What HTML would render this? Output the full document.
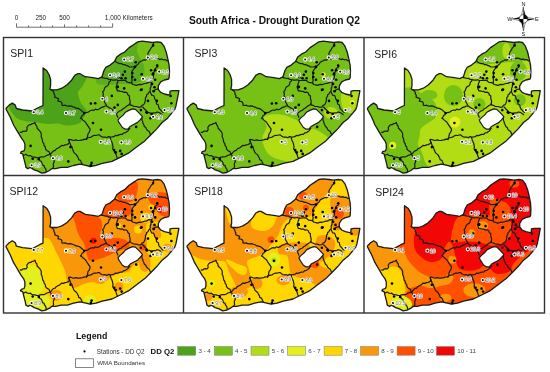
<!DOCTYPE html><html><head><meta charset="utf-8"><title>South Africa - Drought Duration Q2</title><style>html,body{margin:0;padding:0;background:#fff;overflow:hidden;}svg{display:block;}text{font-family:"Liberation Sans",Arial,sans-serif;}</style></head><body><svg width="550" height="372" viewBox="0 0 550 372"><defs><clipPath id="saclip"><path d="M6.1,108.2 L9.2,105.1 L12.3,103.1 L15.3,105.1 L16.4,108.5 L22.6,110.0 L32.0,111.0 L39.5,107.0 L43.0,105.5 L43.1,68.0 L46.6,70.5 L49.0,74.5 L50.6,79.4 L50.6,85.8 L49.8,89.0 L52.3,89.8 L57.1,89.8 L61.9,88.2 L66.8,85.0 L71.6,80.2 L74.8,75.3 L78.0,73.7 L80.0,73.7 L85.2,76.7 L92.7,77.7 L98.4,78.6 L102.0,76.7 L104.0,70.5 L105.8,67.3 L110.2,65.1 L114.5,61.5 L116.7,57.1 L120.4,54.2 L124.7,52.0 L129.1,47.6 L133.5,44.7 L137.8,41.8 L142.2,41.1 L148.0,41.8 L152.4,42.5 L157.5,41.8 L161.1,42.5 L164.0,46.2 L166.2,52.0 L167.6,57.8 L169.1,65.1 L169.5,70.9 L169.2,77.5 L168.6,79.0 L164.4,80.0 L160.7,81.8 L158.3,85.8 L158.3,89.3 L160.7,92.3 L164.4,94.0 L168.6,95.0 L169.9,94.5 L170.0,91.2 L172.8,90.6 L178.9,90.6 L178.3,94.0 L177.1,100.1 L175.9,106.2 L174.7,109.5 L172.4,112.3 L167.3,118.4 L162.1,122.5 L157.0,128.6 L150.9,134.8 L144.8,140.9 L136.6,147.0 L128.4,153.2 L120.2,157.3 L112.0,161.3 L102.2,163.4 L96.1,165.4 L90.0,166.5 L85.9,165.4 L80.0,164.2 L73.6,165.5 L67.3,167.4 L60.9,167.4 L55.8,168.6 L52.0,168.6 L49.5,170.5 L45.6,172.5 L41.8,173.1 L38.0,171.2 L34.2,169.9 L30.4,167.4 L27.8,168.6 L25.9,167.4 L25.3,164.2 L24.0,159.1 L22.7,154.0 L20.5,153.2 L21.3,151.6 L24.1,150.8 L24.9,148.4 L24.9,144.4 L23.7,141.1 L21.3,137.9 L18.9,133.9 L16.5,129.8 L13.6,125.0 L10.2,117.0 L6.1,109.2Z"/></clipPath></defs><rect width="550" height="372" fill="#fff"/><text x="189" y="23.6" font-size="10.25" font-weight="bold" fill="#111">South Africa - Drought Duration Q2</text><g stroke="#333" stroke-width="0.7" fill="none"><line x1="16.5" y1="27.2" x2="112.6" y2="27.2"/><line x1="16.5" y1="27.2" x2="16.5" y2="23.3"/><line x1="28.5" y1="27.2" x2="28.5" y2="25.4"/><line x1="40.5" y1="27.2" x2="40.5" y2="25.4"/><line x1="52.5" y1="27.2" x2="52.5" y2="25.4"/><line x1="64.5" y1="27.2" x2="64.5" y2="24.4"/><line x1="76.6" y1="27.2" x2="76.6" y2="25.4"/><line x1="88.6" y1="27.2" x2="88.6" y2="25.4"/><line x1="100.6" y1="27.2" x2="100.6" y2="25.4"/><line x1="112.6" y1="27.2" x2="112.6" y2="23.3"/></g><g font-size="6.4" fill="#222"><text x="16.5" y="20" text-anchor="middle">0</text><text x="40.8" y="20" text-anchor="middle">250</text><text x="64.6" y="20" text-anchor="middle">500</text><text x="104.8" y="20">1,000 Kilometers</text></g><g><path d="M523.4,18.9 L523.4,6.699999999999999 L526.1999999999999,18.9Z" fill="#000"/><path d="M523.4,18.9 L523.4,6.699999999999999 L520.6,18.9Z" fill="#fff" stroke="#000" stroke-width="0.4"/><path d="M523.4,18.9 L534.4,18.9 L523.4,21.7Z" fill="#000"/><path d="M523.4,18.9 L534.4,18.9 L523.4,16.099999999999998Z" fill="#fff" stroke="#000" stroke-width="0.4"/><path d="M523.4,18.9 L523.4,31.099999999999998 L520.6,18.9Z" fill="#000"/><path d="M523.4,18.9 L523.4,31.099999999999998 L526.1999999999999,18.9Z" fill="#fff" stroke="#000" stroke-width="0.4"/><path d="M523.4,18.9 L512.4,18.9 L523.4,16.099999999999998Z" fill="#000"/><path d="M523.4,18.9 L512.4,18.9 L523.4,21.7Z" fill="#fff" stroke="#000" stroke-width="0.4"/><circle cx="523.4" cy="18.9" r="4.3" fill="#fff" stroke="#000" stroke-width="0.6"/><path d="M523.4,18.9 L523.4,14.599999999999998 A4.3,4.3 0 0 1 527.6999999999999,18.9 Z" fill="#000"/><path d="M523.4,18.9 L523.4,23.2 A4.3,4.3 0 0 1 519.1,18.9 Z" fill="#000"/><g font-family="Liberation Serif" font-size="5.6" fill="#111" text-anchor="middle"><text x="523.4" y="6">N</text><text x="523.4" y="35.5">S</text><text x="509.8" y="20.7">W</text><text x="536.8" y="20.7">E</text></g></g><g transform="translate(0,0)"><g clip-path="url(#saclip)"><rect x="0" y="30" width="185" height="150" fill="#77c016"/><path d="M0.0,95.0 C0.7,94.7 5.3,103.5 12.0,98.0 C18.7,92.5 32.0,68.0 40.0,62.0 C48.0,56.0 52.5,60.3 60.0,62.0 C67.5,63.7 80.6,69.4 85.0,72.0 C89.4,74.6 86.6,75.6 86.5,77.4 C86.4,79.2 85.3,81.0 84.4,82.8 C83.5,84.6 82.2,86.5 81.1,88.1 C80.0,89.7 78.2,90.8 77.9,92.4 C77.6,94.0 78.5,96.0 79.0,97.8 C79.5,99.6 80.2,101.6 81.1,103.2 C82.0,104.8 83.5,106.2 84.4,107.5 C85.3,108.8 86.6,109.1 86.5,110.7 C86.4,112.3 85.2,114.9 84.0,117.0 C82.8,119.1 82.0,121.8 79.2,123.2 C76.4,124.6 70.6,125.5 67.1,125.6 C63.6,125.6 61.3,123.8 58.0,123.5 C54.7,123.2 50.9,124.2 47.3,124.0 C43.7,123.8 39.7,122.7 36.4,122.3 C33.1,121.9 30.3,122.0 27.3,121.5 C24.3,121.0 20.6,120.2 18.2,119.0 C15.8,117.8 14.4,115.8 13.0,114.0 C11.6,112.2 10.3,110.8 9.5,108.5 C8.7,106.2 9.6,102.2 8.0,100.0 C6.4,97.8 -0.7,95.3 0.0,95.0Z" fill="#4ca31a"/><path d="M98.0,84.0 C94.2,82.0 96.0,75.0 97.0,72.0 C98.0,69.0 101.5,67.7 104.0,66.0 C106.5,64.3 110.0,63.7 112.0,62.0 C114.0,60.3 114.3,58.0 116.0,56.0 C117.7,54.0 119.7,51.8 122.0,50.0 C124.3,48.2 127.3,46.5 130.0,45.0 C132.7,43.5 136.8,40.0 138.0,41.0 C139.2,42.0 136.5,47.8 137.0,51.0 C137.5,54.2 139.8,57.5 141.0,60.0 C142.2,62.5 143.5,63.3 144.0,66.0 C144.5,68.7 144.7,73.3 144.0,76.0 C143.3,78.7 142.0,80.7 140.0,82.0 C138.0,83.3 135.3,83.7 132.0,84.0 C128.7,84.3 125.7,84.0 120.0,84.0 C114.3,84.0 101.8,86.0 98.0,84.0Z" fill="#5cad1c"/><g fill="none" stroke="#1a1a1a" stroke-width="1.2" stroke-linejoin="round"><path d="M49.8,89.0 L51.3,89.9 L52.8,90.9 L53.9,92.3 L54.0,93.9 L54.9,95.4 L54.7,97.1 L56.7,97.9 L58.7,98.7 L57.9,101.1 L59.5,101.3 L61.1,101.9 L62.0,103.4 L61.9,105.2 L63.5,105.5 L65.3,105.2 L66.8,106.0 L68.3,106.1 L69.9,105.9 L71.4,106.1 L72.9,106.8 L74.5,107.2 L76.0,108.2 L77.7,108.4 L79.6,109.1 L81.1,110.3 L82.6,111.6 L84.2,113.2 L85.9,112.7 L87.6,112.4 L89.1,111.4 L90.6,110.5 L92.3,110.0 L94.0,110.4 L95.4,109.1 L97.2,109.8 L98.7,109.2 L100.2,108.2 L101.6,107.3 L103.4,106.9 L104.9,106.0 L106.7,106.0"/><path d="M110.7,79.5 L110.3,81.1 L108.9,82.3 L108.7,84.0 L107.7,85.7 L105.8,86.6 L104.6,88.1 L104.0,90.3 L102.6,92.1 L103.4,93.8 L103.0,95.9 L104.0,97.5 L104.5,99.0 L104.2,100.5 L104.5,102.0 L105.3,103.3 L106.0,104.6 L106.7,106.0 L108.3,107.0 L109.9,108.1 L111.7,109.0 L113.1,110.5 L113.9,111.8 L115.6,112.3 L116.3,113.7 L117.8,112.4 L119.3,111.1 L121.2,110.5 L122.6,109.1 L124.4,108.1 L125.9,106.8 L127.6,105.6 L129.1,104.7 L130.0,103.2 L130.2,101.5 L129.8,99.7 L129.3,98.0 L129.5,96.1 L128.0,95.0 L127.3,93.0 L125.5,92.1 L123.8,92.4 L122.3,91.4 L120.6,91.5 L119.1,90.9 L117.4,90.8 L116.6,88.8 L116.1,86.7 L116.8,85.2 L117.1,83.6 L117.8,82.1 L118.1,80.5"/><path d="M116.3,113.7 L117.2,115.7 L118.0,117.8"/><path d="M99.0,77.0 L100.6,77.4 L102.4,77.6 L104.0,78.0 L105.7,78.5 L107.4,78.4 L108.9,79.5 L110.7,79.5 L112.5,80.1 L114.4,80.2 L116.3,79.8 L118.1,80.5 L119.9,80.5 L121.8,80.3 L123.7,80.2 L125.5,80.5 L126.6,81.7 L127.9,82.5 L129.5,82.7 L131.4,82.9 L132.7,84.5 L134.5,84.8 L136.2,85.4 L137.9,84.9 L139.5,84.4 L141.3,84.6 L143.0,84.0 L144.5,83.5 L146.0,83.4 L147.5,82.9 L148.8,81.9 L150.5,82.2 L151.9,81.5"/><path d="M135.8,66.2 L134.8,67.6 L133.6,68.9 L132.6,70.3 L131.9,71.8 L132.2,73.5 L132.0,75.1 L131.8,76.7 L131.7,78.4 L132.2,80.1 L131.8,81.8 L131.8,83.5"/><path d="M114.0,60.5 L115.3,61.3 L116.5,62.2 L118.0,63.0 L119.6,63.6 L121.5,63.6 L122.9,64.6 L124.7,64.5 L126.2,65.4 L127.8,65.8 L129.3,66.9 L131.0,67.0 L132.6,67.0 L134.2,66.6 L135.8,66.2 L137.0,65.0 L138.3,63.9 L139.1,62.3 L140.6,61.4 L142.2,60.7 L143.7,59.8 L145.6,60.1 L147.1,59.0 L148.7,58.3 L150.4,59.1 L151.9,58.0 L153.6,58.6 L155.2,58.2 L156.8,58.3 L158.4,58.7 L159.9,59.6 L161.7,58.9 L163.2,59.8 L165.2,59.5 L166.9,60.8 L168.9,60.6"/><path d="M153.5,42.0 L153.5,44.5 L152.7,46.3 L151.2,47.6 L150.3,49.3 L149.3,50.8 L148.3,52.3 L147.9,54.1 L148.0,55.8 L147.7,57.4 L147.1,59.0"/><path d="M158.0,66.0 L156.9,67.6 L155.2,68.6 L154.5,70.2 L154.2,71.8 L153.4,73.3 L153.5,75.1 L153.4,76.8 L153.0,78.4 L152.0,79.8 L151.9,81.5 L151.3,83.2 L151.0,85.0 L151.0,86.7 L150.2,88.2 L150.3,89.9 L149.9,91.5 L148.6,92.4 L148.0,94.0 L146.6,94.8 L146.6,96.3 L145.4,97.6 L145.5,99.2 L145.1,101.4 L144.4,103.5 L143.5,104.8 L142.0,105.4 L141.2,106.8 L138.6,107.3 L137.2,106.7 L135.7,106.5 L133.7,106.3 L131.9,105.3 L130.0,104.8 L130.0,103.2"/><path d="M149.9,91.5 L151.0,93.7 L151.7,95.2 L153.6,95.5 L154.3,97.0 L154.7,98.9 L156.1,100.5 L156.4,102.4 L156.6,104.1 L158.4,105.1 L158.6,106.8 L159.3,108.7 L160.8,110.1 L162.0,111.6 L163.5,112.8"/><path d="M142.3,106.8 L143.5,107.8 L144.5,109.0 L145.6,110.0 L146.7,111.2 L147.7,112.3 L149.2,112.6 L150.6,113.2 L152.1,113.4 L153.7,112.8 L155.4,113.0 L156.9,112.0 L158.6,112.3 L160.0,113.0 L161.3,113.9 L162.5,115.0"/><path d="M68.7,139.3 L70.5,139.5 L72.2,140.1 L73.9,140.5 L75.8,139.9 L77.5,140.4 L79.3,140.5 L81.0,140.2 L82.7,139.9 L84.4,139.1 L86.2,139.3 L87.6,138.0 L89.4,137.5 L91.2,137.1 L92.7,136.0 L94.3,135.4 L96.0,135.5 L97.6,135.0 L99.3,134.9 L100.5,136.0 L101.9,136.8 L103.6,137.1 L105.2,137.0 L106.9,137.7 L108.5,136.6 L110.2,137.1 L112.0,137.0 L113.8,136.7 L115.3,135.4 L117.2,135.6 L118.9,134.9 L120.6,134.4 L122.4,134.3 L123.7,132.9 L125.5,132.7 L126.6,131.7 L128.0,130.9 L128.8,129.6 L129.8,128.4 L128.5,127.4 L127.6,126.0"/><path d="M84.2,113.2 L83.6,114.7 L82.1,115.6 L81.5,117.1 L80.4,118.3 L81.8,118.9 L82.9,120.1 L84.1,121.1 L85.3,122.0 L86.5,123.8 L87.7,125.6 L88.9,127.4 L90.1,129.2 L89.8,130.8 L89.2,132.4 L88.1,133.7 L87.7,135.3 L87.5,137.0 L86.7,138.4 L86.5,140.1"/><path d="M110.2,137.1 L110.5,138.8 L111.0,140.5 L111.8,142.0 L112.4,143.6 L112.7,145.3 L113.1,146.9 L112.6,148.6 L113.5,150.2 L114.5,151.7 L115.5,153.3 L116.2,154.9 L116.7,156.7 L117.5,158.3 L117.8,160.0"/><path d="M68.7,139.3 L68.9,141.0 L69.7,142.5 L70.3,144.1 L70.8,145.7 L72.1,147.0 L72.3,148.7 L73.1,150.2 L73.6,151.8 L74.5,153.1 L75.7,154.1 L76.9,155.2 L77.5,156.7 L78.4,158.0 L78.7,159.7 L80.5,160.4 L81.1,161.9 L81.8,163.3 L82.5,165.0 L84.0,166.0"/><path d="M141.1,117.0 L142.0,118.5 L142.0,120.3 L142.7,121.8 L143.1,123.5 L143.9,125.0 L144.4,126.6 L145.8,127.6 L146.5,129.3 L147.7,130.5 L149.2,131.5 L149.8,132.9 L150.4,134.3 L151.3,135.6 L151.6,137.1"/><path d="M19.8,132.2 L21.4,132.5 L22.8,131.3 L24.4,131.0 L26.0,131.3 L27.2,129.7 L26.8,127.6 L27.8,126.0 L29.0,124.9 L30.7,124.7 L32.0,123.7 L33.7,123.5 L34.9,122.4 L35.8,125.0 L36.9,126.3 L37.1,128.3 L38.4,129.5 L39.9,131.1 L41.1,133.0 L41.3,134.8 L41.2,136.7 L42.0,138.4 L42.4,140.2 L42.7,142.1 L43.8,143.7 L44.1,145.5 L45.4,147.1 L45.5,149.0 L47.0,150.7 L49.0,151.6 L50.0,154.3 L51.3,153.3 L52.3,152.0 L53.5,150.8 L55.2,150.4 L56.2,149.0 L57.6,148.2 L59.1,147.6 L60.4,146.6 L61.5,145.4 L63.3,145.7 L65.0,144.9 L66.8,144.6 L68.3,143.9 L69.5,142.8 L69.2,141.0 L68.7,139.3"/><path d="M21.6,155.2 L23.9,155.2 L26.0,154.3 L27.2,155.3 L28.7,155.8 L30.4,155.5 L31.6,156.6 L33.1,157.0 L34.9,157.2 L36.6,157.6 L38.4,157.8 L40.1,157.1 L41.9,156.9 L43.8,157.0 L45.3,156.3 L46.8,155.3 L48.4,154.9 L50.0,154.3"/><path d="M38.4,157.8 L39.1,159.3 L39.9,160.7 L41.4,161.6 L42.0,163.2 L42.4,164.9 L44.1,165.6 L44.5,167.3 L45.5,168.5 L46.2,170.2 L46.0,172.0"/><path d="M50.0,154.3 L51.0,155.6 L51.3,157.4 L52.3,158.8 L53.8,159.8 L54.4,161.4 L53.5,163.1 L53.3,164.9 L53.6,166.9 L52.6,168.5"/><path d="M152.4,91.1 L154.1,90.6 L155.6,89.5 L157.2,89.1 L158.9,89.1 L160.5,89.5"/></g></g><path d="M6.1,108.2 L9.2,105.1 L12.3,103.1 L15.3,105.1 L16.4,108.5 L22.6,110.0 L32.0,111.0 L39.5,107.0 L43.0,105.5 L43.1,68.0 L46.6,70.5 L49.0,74.5 L50.6,79.4 L50.6,85.8 L49.8,89.0 L52.3,89.8 L57.1,89.8 L61.9,88.2 L66.8,85.0 L71.6,80.2 L74.8,75.3 L78.0,73.7 L80.0,73.7 L85.2,76.7 L92.7,77.7 L98.4,78.6 L102.0,76.7 L104.0,70.5 L105.8,67.3 L110.2,65.1 L114.5,61.5 L116.7,57.1 L120.4,54.2 L124.7,52.0 L129.1,47.6 L133.5,44.7 L137.8,41.8 L142.2,41.1 L148.0,41.8 L152.4,42.5 L157.5,41.8 L161.1,42.5 L164.0,46.2 L166.2,52.0 L167.6,57.8 L169.1,65.1 L169.5,70.9 L169.2,77.5 L168.6,79.0 L164.4,80.0 L160.7,81.8 L158.3,85.8 L158.3,89.3 L160.7,92.3 L164.4,94.0 L168.6,95.0 L169.9,94.5 L170.0,91.2 L172.8,90.6 L178.9,90.6 L178.3,94.0 L177.1,100.1 L175.9,106.2 L174.7,109.5 L172.4,112.3 L167.3,118.4 L162.1,122.5 L157.0,128.6 L150.9,134.8 L144.8,140.9 L136.6,147.0 L128.4,153.2 L120.2,157.3 L112.0,161.3 L102.2,163.4 L96.1,165.4 L90.0,166.5 L85.9,165.4 L80.0,164.2 L73.6,165.5 L67.3,167.4 L60.9,167.4 L55.8,168.6 L52.0,168.6 L49.5,170.5 L45.6,172.5 L41.8,173.1 L38.0,171.2 L34.2,169.9 L30.4,167.4 L27.8,168.6 L25.9,167.4 L25.3,164.2 L24.0,159.1 L22.7,154.0 L20.5,153.2 L21.3,151.6 L24.1,150.8 L24.9,148.4 L24.9,144.4 L23.7,141.1 L21.3,137.9 L18.9,133.9 L16.5,129.8 L13.6,125.0 L10.2,117.0 L6.1,109.2Z" fill="none" stroke="#1a1a1a" stroke-width="1.3" stroke-linejoin="round"/><path d="M118.0,119.8 L120.4,117.4 L123.2,115.1 L125.5,112.2 L128.8,110.4 L132.6,108.9 L135.4,109.4 L138.2,112.2 L141.1,115.1 L142.5,116.9 L140.1,119.8 L137.3,122.6 L133.5,124.5 L130.2,126.4 L127.9,129.2 L125.1,129.2 L122.2,127.3 L120.4,124.5 L118.5,121.6Z" fill="#fff" stroke="#1a1a1a" stroke-width="1.2" stroke-linejoin="round"/><g fill="#000"><circle cx="135.7" cy="62.2" r="1.3"/><circle cx="135" cy="66.9" r="1.3"/><circle cx="124.9" cy="71.6" r="1.3"/><circle cx="122.9" cy="74.7" r="1.3"/><circle cx="125.6" cy="78.3" r="1.3"/><circle cx="121.5" cy="78.3" r="1.3"/><circle cx="132.3" cy="73" r="1.3"/><circle cx="132.3" cy="77" r="1.3"/><circle cx="135" cy="79.7" r="1.3"/><circle cx="141.7" cy="74.3" r="1.3"/><circle cx="151.1" cy="70.3" r="1.3"/><circle cx="153.1" cy="73.6" r="1.3"/><circle cx="155.2" cy="70.3" r="1.3"/><circle cx="157.2" cy="65.6" r="1.3"/><circle cx="155.2" cy="79.7" r="1.3"/><circle cx="117.5" cy="87.1" r="1.3"/><circle cx="124.2" cy="88.4" r="1.3"/><circle cx="152.9" cy="74.3" r="1.3"/><circle cx="152.1" cy="84" r="1.3"/><circle cx="154.5" cy="87.2" r="1.3"/><circle cx="153.7" cy="91.2" r="1.3"/><circle cx="170.6" cy="96" r="1.3"/><circle cx="171.4" cy="103.3" r="1.3"/><circle cx="148" cy="100.9" r="1.3"/><circle cx="156.9" cy="100.9" r="1.3"/><circle cx="146.4" cy="112.2" r="1.3"/><circle cx="141.6" cy="89.6" r="1.3"/><circle cx="111.8" cy="95.9" r="1.3"/><circle cx="90.9" cy="103.5" r="1.3"/><circle cx="95.2" cy="103.3" r="1.3"/><circle cx="114.5" cy="107.6" r="1.3"/><circle cx="117.8" cy="104.9" r="1.3"/><circle cx="93" cy="123" r="1.3"/><circle cx="84.2" cy="113" r="1.3"/><circle cx="117.8" cy="86.7" r="1.3"/><circle cx="140.9" cy="110.1" r="1.3"/><circle cx="147" cy="112.8" r="1.3"/><circle cx="151.7" cy="114.1" r="1.3"/><circle cx="150.4" cy="118.2" r="1.3"/><circle cx="136.2" cy="126.9" r="1.3"/><circle cx="30.6" cy="145.9" r="1.3"/><circle cx="32.7" cy="158.8" r="1.3"/><circle cx="38.8" cy="159.2" r="1.3"/><circle cx="101" cy="129.8" r="1.3"/><circle cx="70.5" cy="147.1" r="1.3"/><circle cx="68.3" cy="161.4" r="1.3"/><circle cx="91.6" cy="162.9" r="1.3"/><circle cx="90.9" cy="165.2" r="1.3"/><circle cx="114.2" cy="150.1" r="1.3"/><circle cx="115.7" cy="152.4" r="1.3"/><circle cx="120.2" cy="150.9" r="1.3"/><circle cx="121.7" cy="153.9" r="1.3"/><circle cx="153.1" cy="45.4" r="1.3"/><circle cx="140.9" cy="90" r="1.3"/><circle cx="118.7" cy="77.2" r="1.3"/></g><circle cx="33.7" cy="112.2" r="1.6" fill="#111" stroke="#fff" stroke-width="1.1"/><text x="36.300000000000004" y="114.10000000000001" font-size="5" fill="#6a7080" stroke="#fff" stroke-width="1.2" stroke-opacity="0.9" paint-order="stroke" stroke-linejoin="round">3.4</text><circle cx="66" cy="113" r="1.6" fill="#111" stroke="#fff" stroke-width="1.1"/><text x="68.6" y="114.9" font-size="5" fill="#6a7080" stroke="#fff" stroke-width="1.2" stroke-opacity="0.9" paint-order="stroke" stroke-linejoin="round">3.7</text><circle cx="102.4" cy="98.8" r="1.6" fill="#111" stroke="#fff" stroke-width="1.1"/><text x="105.0" y="100.7" font-size="5" fill="#6a7080" stroke="#fff" stroke-width="1.2" stroke-opacity="0.9" paint-order="stroke" stroke-linejoin="round">4</text><circle cx="106.4" cy="111.6" r="1.6" fill="#111" stroke="#fff" stroke-width="1.1"/><text x="109.0" y="113.5" font-size="5" fill="#6a7080" stroke="#fff" stroke-width="1.2" stroke-opacity="0.9" paint-order="stroke" stroke-linejoin="round">4.4</text><circle cx="110.1" cy="75.2" r="1.6" fill="#111" stroke="#fff" stroke-width="1.1"/><text x="112.69999999999999" y="77.10000000000001" font-size="5" fill="#6a7080" stroke="#fff" stroke-width="1.2" stroke-opacity="0.9" paint-order="stroke" stroke-linejoin="round">3.6</text><circle cx="124.2" cy="59.5" r="1.6" fill="#111" stroke="#fff" stroke-width="1.1"/><text x="126.8" y="61.4" font-size="5" fill="#6a7080" stroke="#fff" stroke-width="1.2" stroke-opacity="0.9" paint-order="stroke" stroke-linejoin="round">2.7</text><circle cx="147.8" cy="57.5" r="1.6" fill="#111" stroke="#fff" stroke-width="1.1"/><text x="150.4" y="59.4" font-size="5" fill="#6a7080" stroke="#fff" stroke-width="1.2" stroke-opacity="0.9" paint-order="stroke" stroke-linejoin="round">2.6</text><circle cx="143" cy="78.7" r="1.6" fill="#111" stroke="#fff" stroke-width="1.1"/><text x="145.6" y="80.60000000000001" font-size="5" fill="#6a7080" stroke="#fff" stroke-width="1.2" stroke-opacity="0.9" paint-order="stroke" stroke-linejoin="round">4.5</text><circle cx="159.2" cy="71.6" r="1.6" fill="#111" stroke="#fff" stroke-width="1.1"/><text x="161.79999999999998" y="73.5" font-size="5" fill="#6a7080" stroke="#fff" stroke-width="1.2" stroke-opacity="0.9" paint-order="stroke" stroke-linejoin="round">3.3</text><circle cx="153.1" cy="116.8" r="1.6" fill="#111" stroke="#fff" stroke-width="1.1"/><text x="155.7" y="118.7" font-size="5" fill="#6a7080" stroke="#fff" stroke-width="1.2" stroke-opacity="0.9" paint-order="stroke" stroke-linejoin="round">4.4</text><circle cx="164.5" cy="110.1" r="1.6" fill="#111" stroke="#fff" stroke-width="1.1"/><text x="167.1" y="112.0" font-size="5" fill="#6a7080" stroke="#fff" stroke-width="1.2" stroke-opacity="0.9" paint-order="stroke" stroke-linejoin="round">5.3</text><circle cx="121.4" cy="142.4" r="1.6" fill="#111" stroke="#fff" stroke-width="1.1"/><text x="124.0" y="144.3" font-size="5" fill="#6a7080" stroke="#fff" stroke-width="1.2" stroke-opacity="0.9" paint-order="stroke" stroke-linejoin="round">4.9</text><circle cx="100.7" cy="141.8" r="1.6" fill="#111" stroke="#fff" stroke-width="1.1"/><text x="103.3" y="143.70000000000002" font-size="5" fill="#6a7080" stroke="#fff" stroke-width="1.2" stroke-opacity="0.9" paint-order="stroke" stroke-linejoin="round">4.6</text><circle cx="53" cy="158.2" r="1.6" fill="#111" stroke="#fff" stroke-width="1.1"/><text x="55.6" y="160.1" font-size="5" fill="#6a7080" stroke="#fff" stroke-width="1.2" stroke-opacity="0.9" paint-order="stroke" stroke-linejoin="round">4.9</text><circle cx="31.6" cy="165.3" r="1.6" fill="#111" stroke="#fff" stroke-width="1.1"/><text x="34.2" y="167.20000000000002" font-size="5" fill="#6a7080" stroke="#fff" stroke-width="1.2" stroke-opacity="0.9" paint-order="stroke" stroke-linejoin="round">3.9</text></g><g transform="translate(181,0)"><g clip-path="url(#saclip)"><rect x="0" y="30" width="185" height="150" fill="#77c016"/><path d="M83.5,116.6 C85.9,114.5 94.5,113.8 100.0,114.5 C105.5,115.2 112.2,118.6 116.7,120.7 C121.2,122.8 123.5,125.3 127.0,127.0 C130.4,128.7 133.9,128.9 137.4,131.0 C140.9,133.1 147.5,136.6 147.8,139.4 C148.2,142.2 143.0,145.3 139.5,147.7 C136.0,150.1 130.5,151.9 127.0,154.0 C123.5,156.1 121.5,158.7 118.7,160.0 C116.0,161.3 113.6,162.0 110.5,162.0 C107.4,162.0 103.5,161.0 100.0,160.0 C96.5,159.0 92.5,158.1 89.7,156.0 C87.0,153.9 84.9,150.8 83.5,147.7 C82.1,144.6 81.1,140.8 81.4,137.3 C81.8,133.9 85.2,130.4 85.6,127.0 C85.9,123.5 81.1,118.7 83.5,116.6Z" fill="#b2dc14"/><path d="M162.0,90.0 C163.7,88.0 167.0,88.3 170.0,88.0 C173.0,87.7 178.5,86.0 180.0,88.0 C181.5,90.0 179.7,96.7 179.0,100.0 C178.3,103.3 177.5,105.8 176.0,108.0 C174.5,110.2 172.2,112.7 170.0,113.0 C167.8,113.3 164.7,112.2 163.0,110.0 C161.3,107.8 160.2,103.3 160.0,100.0 C159.8,96.7 160.3,92.0 162.0,90.0Z" fill="#b2dc14"/><ellipse cx="150" cy="113" rx="7" ry="6" fill="#b2dc14"/><ellipse cx="171.5" cy="102.5" rx="2.5" ry="2.5" fill="#e4ef1e"/><ellipse cx="142.4" cy="74.5" rx="2.3" ry="2.3" fill="#e4ef1e"/><g fill="none" stroke="#1a1a1a" stroke-width="1.2" stroke-linejoin="round"><path d="M49.8,89.0 L51.3,89.9 L52.8,90.9 L53.9,92.3 L54.0,93.9 L54.9,95.4 L54.7,97.1 L56.7,97.9 L58.7,98.7 L57.9,101.1 L59.5,101.3 L61.1,101.9 L62.0,103.4 L61.9,105.2 L63.5,105.5 L65.3,105.2 L66.8,106.0 L68.3,106.1 L69.9,105.9 L71.4,106.1 L72.9,106.8 L74.5,107.2 L76.0,108.2 L77.7,108.4 L79.6,109.1 L81.1,110.3 L82.6,111.6 L84.2,113.2 L85.9,112.7 L87.6,112.4 L89.1,111.4 L90.6,110.5 L92.3,110.0 L94.0,110.4 L95.4,109.1 L97.2,109.8 L98.7,109.2 L100.2,108.2 L101.6,107.3 L103.4,106.9 L104.9,106.0 L106.7,106.0"/><path d="M110.7,79.5 L110.3,81.1 L108.9,82.3 L108.7,84.0 L107.7,85.7 L105.8,86.6 L104.6,88.1 L104.0,90.3 L102.6,92.1 L103.4,93.8 L103.0,95.9 L104.0,97.5 L104.5,99.0 L104.2,100.5 L104.5,102.0 L105.3,103.3 L106.0,104.6 L106.7,106.0 L108.3,107.0 L109.9,108.1 L111.7,109.0 L113.1,110.5 L113.9,111.8 L115.6,112.3 L116.3,113.7 L117.8,112.4 L119.3,111.1 L121.2,110.5 L122.6,109.1 L124.4,108.1 L125.9,106.8 L127.6,105.6 L129.1,104.7 L130.0,103.2 L130.2,101.5 L129.8,99.7 L129.3,98.0 L129.5,96.1 L128.0,95.0 L127.3,93.0 L125.5,92.1 L123.8,92.4 L122.3,91.4 L120.6,91.5 L119.1,90.9 L117.4,90.8 L116.6,88.8 L116.1,86.7 L116.8,85.2 L117.1,83.6 L117.8,82.1 L118.1,80.5"/><path d="M116.3,113.7 L117.2,115.7 L118.0,117.8"/><path d="M99.0,77.0 L100.6,77.4 L102.4,77.6 L104.0,78.0 L105.7,78.5 L107.4,78.4 L108.9,79.5 L110.7,79.5 L112.5,80.1 L114.4,80.2 L116.3,79.8 L118.1,80.5 L119.9,80.5 L121.8,80.3 L123.7,80.2 L125.5,80.5 L126.6,81.7 L127.9,82.5 L129.5,82.7 L131.4,82.9 L132.7,84.5 L134.5,84.8 L136.2,85.4 L137.9,84.9 L139.5,84.4 L141.3,84.6 L143.0,84.0 L144.5,83.5 L146.0,83.4 L147.5,82.9 L148.8,81.9 L150.5,82.2 L151.9,81.5"/><path d="M135.8,66.2 L134.8,67.6 L133.6,68.9 L132.6,70.3 L131.9,71.8 L132.2,73.5 L132.0,75.1 L131.8,76.7 L131.7,78.4 L132.2,80.1 L131.8,81.8 L131.8,83.5"/><path d="M114.0,60.5 L115.3,61.3 L116.5,62.2 L118.0,63.0 L119.6,63.6 L121.5,63.6 L122.9,64.6 L124.7,64.5 L126.2,65.4 L127.8,65.8 L129.3,66.9 L131.0,67.0 L132.6,67.0 L134.2,66.6 L135.8,66.2 L137.0,65.0 L138.3,63.9 L139.1,62.3 L140.6,61.4 L142.2,60.7 L143.7,59.8 L145.6,60.1 L147.1,59.0 L148.7,58.3 L150.4,59.1 L151.9,58.0 L153.6,58.6 L155.2,58.2 L156.8,58.3 L158.4,58.7 L159.9,59.6 L161.7,58.9 L163.2,59.8 L165.2,59.5 L166.9,60.8 L168.9,60.6"/><path d="M153.5,42.0 L153.5,44.5 L152.7,46.3 L151.2,47.6 L150.3,49.3 L149.3,50.8 L148.3,52.3 L147.9,54.1 L148.0,55.8 L147.7,57.4 L147.1,59.0"/><path d="M158.0,66.0 L156.9,67.6 L155.2,68.6 L154.5,70.2 L154.2,71.8 L153.4,73.3 L153.5,75.1 L153.4,76.8 L153.0,78.4 L152.0,79.8 L151.9,81.5 L151.3,83.2 L151.0,85.0 L151.0,86.7 L150.2,88.2 L150.3,89.9 L149.9,91.5 L148.6,92.4 L148.0,94.0 L146.6,94.8 L146.6,96.3 L145.4,97.6 L145.5,99.2 L145.1,101.4 L144.4,103.5 L143.5,104.8 L142.0,105.4 L141.2,106.8 L138.6,107.3 L137.2,106.7 L135.7,106.5 L133.7,106.3 L131.9,105.3 L130.0,104.8 L130.0,103.2"/><path d="M149.9,91.5 L151.0,93.7 L151.7,95.2 L153.6,95.5 L154.3,97.0 L154.7,98.9 L156.1,100.5 L156.4,102.4 L156.6,104.1 L158.4,105.1 L158.6,106.8 L159.3,108.7 L160.8,110.1 L162.0,111.6 L163.5,112.8"/><path d="M142.3,106.8 L143.5,107.8 L144.5,109.0 L145.6,110.0 L146.7,111.2 L147.7,112.3 L149.2,112.6 L150.6,113.2 L152.1,113.4 L153.7,112.8 L155.4,113.0 L156.9,112.0 L158.6,112.3 L160.0,113.0 L161.3,113.9 L162.5,115.0"/><path d="M68.7,139.3 L70.5,139.5 L72.2,140.1 L73.9,140.5 L75.8,139.9 L77.5,140.4 L79.3,140.5 L81.0,140.2 L82.7,139.9 L84.4,139.1 L86.2,139.3 L87.6,138.0 L89.4,137.5 L91.2,137.1 L92.7,136.0 L94.3,135.4 L96.0,135.5 L97.6,135.0 L99.3,134.9 L100.5,136.0 L101.9,136.8 L103.6,137.1 L105.2,137.0 L106.9,137.7 L108.5,136.6 L110.2,137.1 L112.0,137.0 L113.8,136.7 L115.3,135.4 L117.2,135.6 L118.9,134.9 L120.6,134.4 L122.4,134.3 L123.7,132.9 L125.5,132.7 L126.6,131.7 L128.0,130.9 L128.8,129.6 L129.8,128.4 L128.5,127.4 L127.6,126.0"/><path d="M84.2,113.2 L83.6,114.7 L82.1,115.6 L81.5,117.1 L80.4,118.3 L81.8,118.9 L82.9,120.1 L84.1,121.1 L85.3,122.0 L86.5,123.8 L87.7,125.6 L88.9,127.4 L90.1,129.2 L89.8,130.8 L89.2,132.4 L88.1,133.7 L87.7,135.3 L87.5,137.0 L86.7,138.4 L86.5,140.1"/><path d="M110.2,137.1 L110.5,138.8 L111.0,140.5 L111.8,142.0 L112.4,143.6 L112.7,145.3 L113.1,146.9 L112.6,148.6 L113.5,150.2 L114.5,151.7 L115.5,153.3 L116.2,154.9 L116.7,156.7 L117.5,158.3 L117.8,160.0"/><path d="M68.7,139.3 L68.9,141.0 L69.7,142.5 L70.3,144.1 L70.8,145.7 L72.1,147.0 L72.3,148.7 L73.1,150.2 L73.6,151.8 L74.5,153.1 L75.7,154.1 L76.9,155.2 L77.5,156.7 L78.4,158.0 L78.7,159.7 L80.5,160.4 L81.1,161.9 L81.8,163.3 L82.5,165.0 L84.0,166.0"/><path d="M141.1,117.0 L142.0,118.5 L142.0,120.3 L142.7,121.8 L143.1,123.5 L143.9,125.0 L144.4,126.6 L145.8,127.6 L146.5,129.3 L147.7,130.5 L149.2,131.5 L149.8,132.9 L150.4,134.3 L151.3,135.6 L151.6,137.1"/><path d="M19.8,132.2 L21.4,132.5 L22.8,131.3 L24.4,131.0 L26.0,131.3 L27.2,129.7 L26.8,127.6 L27.8,126.0 L29.0,124.9 L30.7,124.7 L32.0,123.7 L33.7,123.5 L34.9,122.4 L35.8,125.0 L36.9,126.3 L37.1,128.3 L38.4,129.5 L39.9,131.1 L41.1,133.0 L41.3,134.8 L41.2,136.7 L42.0,138.4 L42.4,140.2 L42.7,142.1 L43.8,143.7 L44.1,145.5 L45.4,147.1 L45.5,149.0 L47.0,150.7 L49.0,151.6 L50.0,154.3 L51.3,153.3 L52.3,152.0 L53.5,150.8 L55.2,150.4 L56.2,149.0 L57.6,148.2 L59.1,147.6 L60.4,146.6 L61.5,145.4 L63.3,145.7 L65.0,144.9 L66.8,144.6 L68.3,143.9 L69.5,142.8 L69.2,141.0 L68.7,139.3"/><path d="M21.6,155.2 L23.9,155.2 L26.0,154.3 L27.2,155.3 L28.7,155.8 L30.4,155.5 L31.6,156.6 L33.1,157.0 L34.9,157.2 L36.6,157.6 L38.4,157.8 L40.1,157.1 L41.9,156.9 L43.8,157.0 L45.3,156.3 L46.8,155.3 L48.4,154.9 L50.0,154.3"/><path d="M38.4,157.8 L39.1,159.3 L39.9,160.7 L41.4,161.6 L42.0,163.2 L42.4,164.9 L44.1,165.6 L44.5,167.3 L45.5,168.5 L46.2,170.2 L46.0,172.0"/><path d="M50.0,154.3 L51.0,155.6 L51.3,157.4 L52.3,158.8 L53.8,159.8 L54.4,161.4 L53.5,163.1 L53.3,164.9 L53.6,166.9 L52.6,168.5"/><path d="M152.4,91.1 L154.1,90.6 L155.6,89.5 L157.2,89.1 L158.9,89.1 L160.5,89.5"/></g></g><path d="M6.1,108.2 L9.2,105.1 L12.3,103.1 L15.3,105.1 L16.4,108.5 L22.6,110.0 L32.0,111.0 L39.5,107.0 L43.0,105.5 L43.1,68.0 L46.6,70.5 L49.0,74.5 L50.6,79.4 L50.6,85.8 L49.8,89.0 L52.3,89.8 L57.1,89.8 L61.9,88.2 L66.8,85.0 L71.6,80.2 L74.8,75.3 L78.0,73.7 L80.0,73.7 L85.2,76.7 L92.7,77.7 L98.4,78.6 L102.0,76.7 L104.0,70.5 L105.8,67.3 L110.2,65.1 L114.5,61.5 L116.7,57.1 L120.4,54.2 L124.7,52.0 L129.1,47.6 L133.5,44.7 L137.8,41.8 L142.2,41.1 L148.0,41.8 L152.4,42.5 L157.5,41.8 L161.1,42.5 L164.0,46.2 L166.2,52.0 L167.6,57.8 L169.1,65.1 L169.5,70.9 L169.2,77.5 L168.6,79.0 L164.4,80.0 L160.7,81.8 L158.3,85.8 L158.3,89.3 L160.7,92.3 L164.4,94.0 L168.6,95.0 L169.9,94.5 L170.0,91.2 L172.8,90.6 L178.9,90.6 L178.3,94.0 L177.1,100.1 L175.9,106.2 L174.7,109.5 L172.4,112.3 L167.3,118.4 L162.1,122.5 L157.0,128.6 L150.9,134.8 L144.8,140.9 L136.6,147.0 L128.4,153.2 L120.2,157.3 L112.0,161.3 L102.2,163.4 L96.1,165.4 L90.0,166.5 L85.9,165.4 L80.0,164.2 L73.6,165.5 L67.3,167.4 L60.9,167.4 L55.8,168.6 L52.0,168.6 L49.5,170.5 L45.6,172.5 L41.8,173.1 L38.0,171.2 L34.2,169.9 L30.4,167.4 L27.8,168.6 L25.9,167.4 L25.3,164.2 L24.0,159.1 L22.7,154.0 L20.5,153.2 L21.3,151.6 L24.1,150.8 L24.9,148.4 L24.9,144.4 L23.7,141.1 L21.3,137.9 L18.9,133.9 L16.5,129.8 L13.6,125.0 L10.2,117.0 L6.1,109.2Z" fill="none" stroke="#1a1a1a" stroke-width="1.3" stroke-linejoin="round"/><path d="M118.0,119.8 L120.4,117.4 L123.2,115.1 L125.5,112.2 L128.8,110.4 L132.6,108.9 L135.4,109.4 L138.2,112.2 L141.1,115.1 L142.5,116.9 L140.1,119.8 L137.3,122.6 L133.5,124.5 L130.2,126.4 L127.9,129.2 L125.1,129.2 L122.2,127.3 L120.4,124.5 L118.5,121.6Z" fill="#fff" stroke="#1a1a1a" stroke-width="1.2" stroke-linejoin="round"/><g fill="#000"><circle cx="135.7" cy="62.2" r="1.3"/><circle cx="135" cy="66.9" r="1.3"/><circle cx="124.9" cy="71.6" r="1.3"/><circle cx="122.9" cy="74.7" r="1.3"/><circle cx="125.6" cy="78.3" r="1.3"/><circle cx="121.5" cy="78.3" r="1.3"/><circle cx="132.3" cy="73" r="1.3"/><circle cx="132.3" cy="77" r="1.3"/><circle cx="135" cy="79.7" r="1.3"/><circle cx="141.7" cy="74.3" r="1.3"/><circle cx="151.1" cy="70.3" r="1.3"/><circle cx="153.1" cy="73.6" r="1.3"/><circle cx="155.2" cy="70.3" r="1.3"/><circle cx="157.2" cy="65.6" r="1.3"/><circle cx="155.2" cy="79.7" r="1.3"/><circle cx="117.5" cy="87.1" r="1.3"/><circle cx="124.2" cy="88.4" r="1.3"/><circle cx="152.9" cy="74.3" r="1.3"/><circle cx="152.1" cy="84" r="1.3"/><circle cx="154.5" cy="87.2" r="1.3"/><circle cx="153.7" cy="91.2" r="1.3"/><circle cx="170.6" cy="96" r="1.3"/><circle cx="171.4" cy="103.3" r="1.3"/><circle cx="148" cy="100.9" r="1.3"/><circle cx="156.9" cy="100.9" r="1.3"/><circle cx="146.4" cy="112.2" r="1.3"/><circle cx="141.6" cy="89.6" r="1.3"/><circle cx="111.8" cy="95.9" r="1.3"/><circle cx="90.9" cy="103.5" r="1.3"/><circle cx="95.2" cy="103.3" r="1.3"/><circle cx="114.5" cy="107.6" r="1.3"/><circle cx="117.8" cy="104.9" r="1.3"/><circle cx="93" cy="123" r="1.3"/><circle cx="84.2" cy="113" r="1.3"/><circle cx="117.8" cy="86.7" r="1.3"/><circle cx="140.9" cy="110.1" r="1.3"/><circle cx="147" cy="112.8" r="1.3"/><circle cx="151.7" cy="114.1" r="1.3"/><circle cx="150.4" cy="118.2" r="1.3"/><circle cx="136.2" cy="126.9" r="1.3"/><circle cx="30.6" cy="145.9" r="1.3"/><circle cx="32.7" cy="158.8" r="1.3"/><circle cx="38.8" cy="159.2" r="1.3"/><circle cx="101" cy="129.8" r="1.3"/><circle cx="70.5" cy="147.1" r="1.3"/><circle cx="68.3" cy="161.4" r="1.3"/><circle cx="91.6" cy="162.9" r="1.3"/><circle cx="90.9" cy="165.2" r="1.3"/><circle cx="114.2" cy="150.1" r="1.3"/><circle cx="115.7" cy="152.4" r="1.3"/><circle cx="120.2" cy="150.9" r="1.3"/><circle cx="121.7" cy="153.9" r="1.3"/><circle cx="153.1" cy="45.4" r="1.3"/><circle cx="140.9" cy="90" r="1.3"/><circle cx="118.7" cy="77.2" r="1.3"/></g><circle cx="33.7" cy="112.2" r="1.6" fill="#111" stroke="#fff" stroke-width="1.1"/><text x="36.300000000000004" y="114.10000000000001" font-size="5" fill="#6a7080" stroke="#fff" stroke-width="1.2" stroke-opacity="0.9" paint-order="stroke" stroke-linejoin="round">4.3</text><circle cx="66" cy="113" r="1.6" fill="#111" stroke="#fff" stroke-width="1.1"/><text x="68.6" y="114.9" font-size="5" fill="#6a7080" stroke="#fff" stroke-width="1.2" stroke-opacity="0.9" paint-order="stroke" stroke-linejoin="round">4.4</text><circle cx="102.4" cy="98.8" r="1.6" fill="#111" stroke="#fff" stroke-width="1.1"/><text x="105.0" y="100.7" font-size="5" fill="#6a7080" stroke="#fff" stroke-width="1.2" stroke-opacity="0.9" paint-order="stroke" stroke-linejoin="round">4.8</text><circle cx="106.4" cy="111.6" r="1.6" fill="#111" stroke="#fff" stroke-width="1.1"/><text x="109.0" y="113.5" font-size="5" fill="#6a7080" stroke="#fff" stroke-width="1.2" stroke-opacity="0.9" paint-order="stroke" stroke-linejoin="round">4.5</text><circle cx="110.1" cy="75.2" r="1.6" fill="#111" stroke="#fff" stroke-width="1.1"/><text x="112.69999999999999" y="77.10000000000001" font-size="5" fill="#6a7080" stroke="#fff" stroke-width="1.2" stroke-opacity="0.9" paint-order="stroke" stroke-linejoin="round">4.4</text><circle cx="124.2" cy="59.5" r="1.6" fill="#111" stroke="#fff" stroke-width="1.1"/><text x="126.8" y="61.4" font-size="5" fill="#6a7080" stroke="#fff" stroke-width="1.2" stroke-opacity="0.9" paint-order="stroke" stroke-linejoin="round">4.4</text><circle cx="147.8" cy="57.5" r="1.6" fill="#111" stroke="#fff" stroke-width="1.1"/><text x="150.4" y="59.4" font-size="5" fill="#6a7080" stroke="#fff" stroke-width="1.2" stroke-opacity="0.9" paint-order="stroke" stroke-linejoin="round">5.6</text><circle cx="143" cy="78.7" r="1.6" fill="#111" stroke="#fff" stroke-width="1.1"/><text x="145.6" y="80.60000000000001" font-size="5" fill="#6a7080" stroke="#fff" stroke-width="1.2" stroke-opacity="0.9" paint-order="stroke" stroke-linejoin="round">4.1</text><circle cx="159.2" cy="71.6" r="1.6" fill="#111" stroke="#fff" stroke-width="1.1"/><text x="161.79999999999998" y="73.5" font-size="5" fill="#6a7080" stroke="#fff" stroke-width="1.2" stroke-opacity="0.9" paint-order="stroke" stroke-linejoin="round">3.9</text><circle cx="153.1" cy="116.8" r="1.6" fill="#111" stroke="#fff" stroke-width="1.1"/><text x="155.7" y="118.7" font-size="5" fill="#6a7080" stroke="#fff" stroke-width="1.2" stroke-opacity="0.9" paint-order="stroke" stroke-linejoin="round">5</text><circle cx="164.5" cy="110.1" r="1.6" fill="#111" stroke="#fff" stroke-width="1.1"/><text x="167.1" y="112.0" font-size="5" fill="#6a7080" stroke="#fff" stroke-width="1.2" stroke-opacity="0.9" paint-order="stroke" stroke-linejoin="round">6</text><circle cx="121.4" cy="142.4" r="1.6" fill="#111" stroke="#fff" stroke-width="1.1"/><text x="124.0" y="144.3" font-size="5" fill="#6a7080" stroke="#fff" stroke-width="1.2" stroke-opacity="0.9" paint-order="stroke" stroke-linejoin="round">5</text><circle cx="100.7" cy="141.8" r="1.6" fill="#111" stroke="#fff" stroke-width="1.1"/><text x="103.3" y="143.70000000000002" font-size="5" fill="#6a7080" stroke="#fff" stroke-width="1.2" stroke-opacity="0.9" paint-order="stroke" stroke-linejoin="round">5</text><circle cx="53" cy="158.2" r="1.6" fill="#111" stroke="#fff" stroke-width="1.1"/><text x="55.6" y="160.1" font-size="5" fill="#6a7080" stroke="#fff" stroke-width="1.2" stroke-opacity="0.9" paint-order="stroke" stroke-linejoin="round">4.8</text><circle cx="31.6" cy="165.3" r="1.6" fill="#111" stroke="#fff" stroke-width="1.1"/><text x="34.2" y="167.20000000000002" font-size="5" fill="#6a7080" stroke="#fff" stroke-width="1.2" stroke-opacity="0.9" paint-order="stroke" stroke-linejoin="round">3.4</text></g><g transform="translate(361.4,0)"><g clip-path="url(#saclip)"><rect x="0" y="30" width="185" height="150" fill="#b2dc14"/><path d="M-5.0,100.0 C-3.3,91.7 1.9,102.0 10.0,100.0 C18.1,98.0 36.1,89.7 43.5,88.0 C50.9,86.3 51.7,89.3 54.2,90.0 C56.7,90.7 56.4,91.2 58.5,92.3 C60.6,93.4 64.6,94.8 67.1,96.6 C69.6,98.4 72.2,100.5 73.6,103.0 C75.0,105.5 75.7,109.1 75.7,111.6 C75.7,114.1 74.3,116.6 73.6,118.0 C72.9,119.4 73.6,118.3 71.3,120.0 C69.0,121.7 62.1,125.5 59.9,128.2 C57.7,130.9 58.8,133.7 58.2,136.4 C57.7,139.1 56.3,142.1 56.6,144.5 C56.9,146.9 58.8,148.2 59.9,151.0 C61.0,153.8 62.4,157.5 63.2,161.0 C64.0,164.5 72.0,169.2 64.8,172.0 C57.6,174.8 30.8,181.7 20.0,178.0 C9.2,174.3 4.2,163.0 0.0,150.0 C-4.2,137.0 -6.7,108.3 -5.0,100.0Z" fill="#77c016"/><ellipse cx="92" cy="95.5" rx="9.5" ry="10.5" fill="#77c016"/><ellipse cx="68" cy="95" rx="8" ry="5" fill="#77c016"/><path d="M112.0,62.0 C112.0,60.5 115.7,57.3 118.0,55.0 C120.3,52.7 123.3,50.0 126.0,48.0 C128.7,46.0 131.3,44.2 134.0,43.0 C136.7,41.8 139.3,41.3 142.0,41.0 C144.7,40.7 147.0,40.8 150.0,41.0 C153.0,41.2 157.3,40.5 160.0,42.0 C162.7,43.5 164.7,47.3 166.0,50.0 C167.3,52.7 169.0,56.0 168.0,58.0 C167.0,60.0 163.0,61.3 160.0,62.0 C157.0,62.7 153.3,61.8 150.0,62.0 C146.7,62.2 143.7,62.7 140.0,63.0 C136.3,63.3 131.7,63.8 128.0,64.0 C124.3,64.2 120.7,64.3 118.0,64.0 C115.3,63.7 112.0,63.5 112.0,62.0Z" fill="#77c016"/><ellipse cx="145" cy="51" rx="4" ry="8" fill="#b2dc14"/><ellipse cx="157" cy="71" rx="8.5" ry="10" fill="#77c016"/><ellipse cx="118" cy="104" rx="6" ry="6" fill="#77c016"/><ellipse cx="158.5" cy="100" rx="6" ry="6" fill="#77c016"/><ellipse cx="93.5" cy="122" rx="5.5" ry="5.5" fill="#e4ef1e"/><ellipse cx="31.2" cy="145.4" rx="3.6" ry="3.6" fill="#e4ef1e"/><ellipse cx="165.8" cy="109.4" rx="2.5" ry="2.5" fill="#e4ef1e"/><g fill="none" stroke="#1a1a1a" stroke-width="1.2" stroke-linejoin="round"><path d="M49.8,89.0 L51.3,89.9 L52.8,90.9 L53.9,92.3 L54.0,93.9 L54.9,95.4 L54.7,97.1 L56.7,97.9 L58.7,98.7 L57.9,101.1 L59.5,101.3 L61.1,101.9 L62.0,103.4 L61.9,105.2 L63.5,105.5 L65.3,105.2 L66.8,106.0 L68.3,106.1 L69.9,105.9 L71.4,106.1 L72.9,106.8 L74.5,107.2 L76.0,108.2 L77.7,108.4 L79.6,109.1 L81.1,110.3 L82.6,111.6 L84.2,113.2 L85.9,112.7 L87.6,112.4 L89.1,111.4 L90.6,110.5 L92.3,110.0 L94.0,110.4 L95.4,109.1 L97.2,109.8 L98.7,109.2 L100.2,108.2 L101.6,107.3 L103.4,106.9 L104.9,106.0 L106.7,106.0"/><path d="M110.7,79.5 L110.3,81.1 L108.9,82.3 L108.7,84.0 L107.7,85.7 L105.8,86.6 L104.6,88.1 L104.0,90.3 L102.6,92.1 L103.4,93.8 L103.0,95.9 L104.0,97.5 L104.5,99.0 L104.2,100.5 L104.5,102.0 L105.3,103.3 L106.0,104.6 L106.7,106.0 L108.3,107.0 L109.9,108.1 L111.7,109.0 L113.1,110.5 L113.9,111.8 L115.6,112.3 L116.3,113.7 L117.8,112.4 L119.3,111.1 L121.2,110.5 L122.6,109.1 L124.4,108.1 L125.9,106.8 L127.6,105.6 L129.1,104.7 L130.0,103.2 L130.2,101.5 L129.8,99.7 L129.3,98.0 L129.5,96.1 L128.0,95.0 L127.3,93.0 L125.5,92.1 L123.8,92.4 L122.3,91.4 L120.6,91.5 L119.1,90.9 L117.4,90.8 L116.6,88.8 L116.1,86.7 L116.8,85.2 L117.1,83.6 L117.8,82.1 L118.1,80.5"/><path d="M116.3,113.7 L117.2,115.7 L118.0,117.8"/><path d="M99.0,77.0 L100.6,77.4 L102.4,77.6 L104.0,78.0 L105.7,78.5 L107.4,78.4 L108.9,79.5 L110.7,79.5 L112.5,80.1 L114.4,80.2 L116.3,79.8 L118.1,80.5 L119.9,80.5 L121.8,80.3 L123.7,80.2 L125.5,80.5 L126.6,81.7 L127.9,82.5 L129.5,82.7 L131.4,82.9 L132.7,84.5 L134.5,84.8 L136.2,85.4 L137.9,84.9 L139.5,84.4 L141.3,84.6 L143.0,84.0 L144.5,83.5 L146.0,83.4 L147.5,82.9 L148.8,81.9 L150.5,82.2 L151.9,81.5"/><path d="M135.8,66.2 L134.8,67.6 L133.6,68.9 L132.6,70.3 L131.9,71.8 L132.2,73.5 L132.0,75.1 L131.8,76.7 L131.7,78.4 L132.2,80.1 L131.8,81.8 L131.8,83.5"/><path d="M114.0,60.5 L115.3,61.3 L116.5,62.2 L118.0,63.0 L119.6,63.6 L121.5,63.6 L122.9,64.6 L124.7,64.5 L126.2,65.4 L127.8,65.8 L129.3,66.9 L131.0,67.0 L132.6,67.0 L134.2,66.6 L135.8,66.2 L137.0,65.0 L138.3,63.9 L139.1,62.3 L140.6,61.4 L142.2,60.7 L143.7,59.8 L145.6,60.1 L147.1,59.0 L148.7,58.3 L150.4,59.1 L151.9,58.0 L153.6,58.6 L155.2,58.2 L156.8,58.3 L158.4,58.7 L159.9,59.6 L161.7,58.9 L163.2,59.8 L165.2,59.5 L166.9,60.8 L168.9,60.6"/><path d="M153.5,42.0 L153.5,44.5 L152.7,46.3 L151.2,47.6 L150.3,49.3 L149.3,50.8 L148.3,52.3 L147.9,54.1 L148.0,55.8 L147.7,57.4 L147.1,59.0"/><path d="M158.0,66.0 L156.9,67.6 L155.2,68.6 L154.5,70.2 L154.2,71.8 L153.4,73.3 L153.5,75.1 L153.4,76.8 L153.0,78.4 L152.0,79.8 L151.9,81.5 L151.3,83.2 L151.0,85.0 L151.0,86.7 L150.2,88.2 L150.3,89.9 L149.9,91.5 L148.6,92.4 L148.0,94.0 L146.6,94.8 L146.6,96.3 L145.4,97.6 L145.5,99.2 L145.1,101.4 L144.4,103.5 L143.5,104.8 L142.0,105.4 L141.2,106.8 L138.6,107.3 L137.2,106.7 L135.7,106.5 L133.7,106.3 L131.9,105.3 L130.0,104.8 L130.0,103.2"/><path d="M149.9,91.5 L151.0,93.7 L151.7,95.2 L153.6,95.5 L154.3,97.0 L154.7,98.9 L156.1,100.5 L156.4,102.4 L156.6,104.1 L158.4,105.1 L158.6,106.8 L159.3,108.7 L160.8,110.1 L162.0,111.6 L163.5,112.8"/><path d="M142.3,106.8 L143.5,107.8 L144.5,109.0 L145.6,110.0 L146.7,111.2 L147.7,112.3 L149.2,112.6 L150.6,113.2 L152.1,113.4 L153.7,112.8 L155.4,113.0 L156.9,112.0 L158.6,112.3 L160.0,113.0 L161.3,113.9 L162.5,115.0"/><path d="M68.7,139.3 L70.5,139.5 L72.2,140.1 L73.9,140.5 L75.8,139.9 L77.5,140.4 L79.3,140.5 L81.0,140.2 L82.7,139.9 L84.4,139.1 L86.2,139.3 L87.6,138.0 L89.4,137.5 L91.2,137.1 L92.7,136.0 L94.3,135.4 L96.0,135.5 L97.6,135.0 L99.3,134.9 L100.5,136.0 L101.9,136.8 L103.6,137.1 L105.2,137.0 L106.9,137.7 L108.5,136.6 L110.2,137.1 L112.0,137.0 L113.8,136.7 L115.3,135.4 L117.2,135.6 L118.9,134.9 L120.6,134.4 L122.4,134.3 L123.7,132.9 L125.5,132.7 L126.6,131.7 L128.0,130.9 L128.8,129.6 L129.8,128.4 L128.5,127.4 L127.6,126.0"/><path d="M84.2,113.2 L83.6,114.7 L82.1,115.6 L81.5,117.1 L80.4,118.3 L81.8,118.9 L82.9,120.1 L84.1,121.1 L85.3,122.0 L86.5,123.8 L87.7,125.6 L88.9,127.4 L90.1,129.2 L89.8,130.8 L89.2,132.4 L88.1,133.7 L87.7,135.3 L87.5,137.0 L86.7,138.4 L86.5,140.1"/><path d="M110.2,137.1 L110.5,138.8 L111.0,140.5 L111.8,142.0 L112.4,143.6 L112.7,145.3 L113.1,146.9 L112.6,148.6 L113.5,150.2 L114.5,151.7 L115.5,153.3 L116.2,154.9 L116.7,156.7 L117.5,158.3 L117.8,160.0"/><path d="M68.7,139.3 L68.9,141.0 L69.7,142.5 L70.3,144.1 L70.8,145.7 L72.1,147.0 L72.3,148.7 L73.1,150.2 L73.6,151.8 L74.5,153.1 L75.7,154.1 L76.9,155.2 L77.5,156.7 L78.4,158.0 L78.7,159.7 L80.5,160.4 L81.1,161.9 L81.8,163.3 L82.5,165.0 L84.0,166.0"/><path d="M141.1,117.0 L142.0,118.5 L142.0,120.3 L142.7,121.8 L143.1,123.5 L143.9,125.0 L144.4,126.6 L145.8,127.6 L146.5,129.3 L147.7,130.5 L149.2,131.5 L149.8,132.9 L150.4,134.3 L151.3,135.6 L151.6,137.1"/><path d="M19.8,132.2 L21.4,132.5 L22.8,131.3 L24.4,131.0 L26.0,131.3 L27.2,129.7 L26.8,127.6 L27.8,126.0 L29.0,124.9 L30.7,124.7 L32.0,123.7 L33.7,123.5 L34.9,122.4 L35.8,125.0 L36.9,126.3 L37.1,128.3 L38.4,129.5 L39.9,131.1 L41.1,133.0 L41.3,134.8 L41.2,136.7 L42.0,138.4 L42.4,140.2 L42.7,142.1 L43.8,143.7 L44.1,145.5 L45.4,147.1 L45.5,149.0 L47.0,150.7 L49.0,151.6 L50.0,154.3 L51.3,153.3 L52.3,152.0 L53.5,150.8 L55.2,150.4 L56.2,149.0 L57.6,148.2 L59.1,147.6 L60.4,146.6 L61.5,145.4 L63.3,145.7 L65.0,144.9 L66.8,144.6 L68.3,143.9 L69.5,142.8 L69.2,141.0 L68.7,139.3"/><path d="M21.6,155.2 L23.9,155.2 L26.0,154.3 L27.2,155.3 L28.7,155.8 L30.4,155.5 L31.6,156.6 L33.1,157.0 L34.9,157.2 L36.6,157.6 L38.4,157.8 L40.1,157.1 L41.9,156.9 L43.8,157.0 L45.3,156.3 L46.8,155.3 L48.4,154.9 L50.0,154.3"/><path d="M38.4,157.8 L39.1,159.3 L39.9,160.7 L41.4,161.6 L42.0,163.2 L42.4,164.9 L44.1,165.6 L44.5,167.3 L45.5,168.5 L46.2,170.2 L46.0,172.0"/><path d="M50.0,154.3 L51.0,155.6 L51.3,157.4 L52.3,158.8 L53.8,159.8 L54.4,161.4 L53.5,163.1 L53.3,164.9 L53.6,166.9 L52.6,168.5"/><path d="M152.4,91.1 L154.1,90.6 L155.6,89.5 L157.2,89.1 L158.9,89.1 L160.5,89.5"/></g></g><path d="M6.1,108.2 L9.2,105.1 L12.3,103.1 L15.3,105.1 L16.4,108.5 L22.6,110.0 L32.0,111.0 L39.5,107.0 L43.0,105.5 L43.1,68.0 L46.6,70.5 L49.0,74.5 L50.6,79.4 L50.6,85.8 L49.8,89.0 L52.3,89.8 L57.1,89.8 L61.9,88.2 L66.8,85.0 L71.6,80.2 L74.8,75.3 L78.0,73.7 L80.0,73.7 L85.2,76.7 L92.7,77.7 L98.4,78.6 L102.0,76.7 L104.0,70.5 L105.8,67.3 L110.2,65.1 L114.5,61.5 L116.7,57.1 L120.4,54.2 L124.7,52.0 L129.1,47.6 L133.5,44.7 L137.8,41.8 L142.2,41.1 L148.0,41.8 L152.4,42.5 L157.5,41.8 L161.1,42.5 L164.0,46.2 L166.2,52.0 L167.6,57.8 L169.1,65.1 L169.5,70.9 L169.2,77.5 L168.6,79.0 L164.4,80.0 L160.7,81.8 L158.3,85.8 L158.3,89.3 L160.7,92.3 L164.4,94.0 L168.6,95.0 L169.9,94.5 L170.0,91.2 L172.8,90.6 L178.9,90.6 L178.3,94.0 L177.1,100.1 L175.9,106.2 L174.7,109.5 L172.4,112.3 L167.3,118.4 L162.1,122.5 L157.0,128.6 L150.9,134.8 L144.8,140.9 L136.6,147.0 L128.4,153.2 L120.2,157.3 L112.0,161.3 L102.2,163.4 L96.1,165.4 L90.0,166.5 L85.9,165.4 L80.0,164.2 L73.6,165.5 L67.3,167.4 L60.9,167.4 L55.8,168.6 L52.0,168.6 L49.5,170.5 L45.6,172.5 L41.8,173.1 L38.0,171.2 L34.2,169.9 L30.4,167.4 L27.8,168.6 L25.9,167.4 L25.3,164.2 L24.0,159.1 L22.7,154.0 L20.5,153.2 L21.3,151.6 L24.1,150.8 L24.9,148.4 L24.9,144.4 L23.7,141.1 L21.3,137.9 L18.9,133.9 L16.5,129.8 L13.6,125.0 L10.2,117.0 L6.1,109.2Z" fill="none" stroke="#1a1a1a" stroke-width="1.3" stroke-linejoin="round"/><path d="M118.0,119.8 L120.4,117.4 L123.2,115.1 L125.5,112.2 L128.8,110.4 L132.6,108.9 L135.4,109.4 L138.2,112.2 L141.1,115.1 L142.5,116.9 L140.1,119.8 L137.3,122.6 L133.5,124.5 L130.2,126.4 L127.9,129.2 L125.1,129.2 L122.2,127.3 L120.4,124.5 L118.5,121.6Z" fill="#fff" stroke="#1a1a1a" stroke-width="1.2" stroke-linejoin="round"/><g fill="#000"><circle cx="135.7" cy="62.2" r="1.3"/><circle cx="135" cy="66.9" r="1.3"/><circle cx="124.9" cy="71.6" r="1.3"/><circle cx="122.9" cy="74.7" r="1.3"/><circle cx="125.6" cy="78.3" r="1.3"/><circle cx="121.5" cy="78.3" r="1.3"/><circle cx="132.3" cy="73" r="1.3"/><circle cx="132.3" cy="77" r="1.3"/><circle cx="135" cy="79.7" r="1.3"/><circle cx="141.7" cy="74.3" r="1.3"/><circle cx="151.1" cy="70.3" r="1.3"/><circle cx="153.1" cy="73.6" r="1.3"/><circle cx="155.2" cy="70.3" r="1.3"/><circle cx="157.2" cy="65.6" r="1.3"/><circle cx="155.2" cy="79.7" r="1.3"/><circle cx="117.5" cy="87.1" r="1.3"/><circle cx="124.2" cy="88.4" r="1.3"/><circle cx="152.9" cy="74.3" r="1.3"/><circle cx="152.1" cy="84" r="1.3"/><circle cx="154.5" cy="87.2" r="1.3"/><circle cx="153.7" cy="91.2" r="1.3"/><circle cx="170.6" cy="96" r="1.3"/><circle cx="171.4" cy="103.3" r="1.3"/><circle cx="148" cy="100.9" r="1.3"/><circle cx="156.9" cy="100.9" r="1.3"/><circle cx="146.4" cy="112.2" r="1.3"/><circle cx="141.6" cy="89.6" r="1.3"/><circle cx="111.8" cy="95.9" r="1.3"/><circle cx="90.9" cy="103.5" r="1.3"/><circle cx="95.2" cy="103.3" r="1.3"/><circle cx="114.5" cy="107.6" r="1.3"/><circle cx="117.8" cy="104.9" r="1.3"/><circle cx="93" cy="123" r="1.3"/><circle cx="84.2" cy="113" r="1.3"/><circle cx="117.8" cy="86.7" r="1.3"/><circle cx="140.9" cy="110.1" r="1.3"/><circle cx="147" cy="112.8" r="1.3"/><circle cx="151.7" cy="114.1" r="1.3"/><circle cx="150.4" cy="118.2" r="1.3"/><circle cx="136.2" cy="126.9" r="1.3"/><circle cx="30.6" cy="145.9" r="1.3"/><circle cx="32.7" cy="158.8" r="1.3"/><circle cx="38.8" cy="159.2" r="1.3"/><circle cx="101" cy="129.8" r="1.3"/><circle cx="70.5" cy="147.1" r="1.3"/><circle cx="68.3" cy="161.4" r="1.3"/><circle cx="91.6" cy="162.9" r="1.3"/><circle cx="90.9" cy="165.2" r="1.3"/><circle cx="114.2" cy="150.1" r="1.3"/><circle cx="115.7" cy="152.4" r="1.3"/><circle cx="120.2" cy="150.9" r="1.3"/><circle cx="121.7" cy="153.9" r="1.3"/><circle cx="153.1" cy="45.4" r="1.3"/><circle cx="140.9" cy="90" r="1.3"/><circle cx="118.7" cy="77.2" r="1.3"/></g><circle cx="33.7" cy="112.2" r="1.6" fill="#111" stroke="#fff" stroke-width="1.1"/><text x="36.300000000000004" y="114.10000000000001" font-size="5" fill="#6a7080" stroke="#fff" stroke-width="1.2" stroke-opacity="0.9" paint-order="stroke" stroke-linejoin="round">5</text><circle cx="66" cy="113" r="1.6" fill="#111" stroke="#fff" stroke-width="1.1"/><text x="68.6" y="114.9" font-size="5" fill="#6a7080" stroke="#fff" stroke-width="1.2" stroke-opacity="0.9" paint-order="stroke" stroke-linejoin="round">4.4</text><circle cx="102.4" cy="98.8" r="1.6" fill="#111" stroke="#fff" stroke-width="1.1"/><text x="105.0" y="100.7" font-size="5" fill="#6a7080" stroke="#fff" stroke-width="1.2" stroke-opacity="0.9" paint-order="stroke" stroke-linejoin="round">4.3</text><circle cx="106.4" cy="111.6" r="1.6" fill="#111" stroke="#fff" stroke-width="1.1"/><text x="109.0" y="113.5" font-size="5" fill="#6a7080" stroke="#fff" stroke-width="1.2" stroke-opacity="0.9" paint-order="stroke" stroke-linejoin="round">5.4</text><circle cx="110.1" cy="75.2" r="1.6" fill="#111" stroke="#fff" stroke-width="1.1"/><text x="112.69999999999999" y="77.10000000000001" font-size="5" fill="#6a7080" stroke="#fff" stroke-width="1.2" stroke-opacity="0.9" paint-order="stroke" stroke-linejoin="round">5.7</text><circle cx="124.2" cy="59.5" r="1.6" fill="#111" stroke="#fff" stroke-width="1.1"/><text x="126.8" y="61.4" font-size="5" fill="#6a7080" stroke="#fff" stroke-width="1.2" stroke-opacity="0.9" paint-order="stroke" stroke-linejoin="round">4.2</text><circle cx="147.8" cy="57.5" r="1.6" fill="#111" stroke="#fff" stroke-width="1.1"/><text x="150.4" y="59.4" font-size="5" fill="#6a7080" stroke="#fff" stroke-width="1.2" stroke-opacity="0.9" paint-order="stroke" stroke-linejoin="round">5</text><circle cx="143" cy="78.7" r="1.6" fill="#111" stroke="#fff" stroke-width="1.1"/><text x="145.6" y="80.60000000000001" font-size="5" fill="#6a7080" stroke="#fff" stroke-width="1.2" stroke-opacity="0.9" paint-order="stroke" stroke-linejoin="round">5.2</text><circle cx="159.2" cy="71.6" r="1.6" fill="#111" stroke="#fff" stroke-width="1.1"/><text x="161.79999999999998" y="73.5" font-size="5" fill="#6a7080" stroke="#fff" stroke-width="1.2" stroke-opacity="0.9" paint-order="stroke" stroke-linejoin="round">4.8</text><circle cx="153.1" cy="116.8" r="1.6" fill="#111" stroke="#fff" stroke-width="1.1"/><text x="155.7" y="118.7" font-size="5" fill="#6a7080" stroke="#fff" stroke-width="1.2" stroke-opacity="0.9" paint-order="stroke" stroke-linejoin="round">5</text><circle cx="164.5" cy="110.1" r="1.6" fill="#111" stroke="#fff" stroke-width="1.1"/><text x="167.1" y="112.0" font-size="5" fill="#6a7080" stroke="#fff" stroke-width="1.2" stroke-opacity="0.9" paint-order="stroke" stroke-linejoin="round">6.3</text><circle cx="121.4" cy="142.4" r="1.6" fill="#111" stroke="#fff" stroke-width="1.1"/><text x="124.0" y="144.3" font-size="5" fill="#6a7080" stroke="#fff" stroke-width="1.2" stroke-opacity="0.9" paint-order="stroke" stroke-linejoin="round">4.8</text><circle cx="100.7" cy="141.8" r="1.6" fill="#111" stroke="#fff" stroke-width="1.1"/><text x="103.3" y="143.70000000000002" font-size="5" fill="#6a7080" stroke="#fff" stroke-width="1.2" stroke-opacity="0.9" paint-order="stroke" stroke-linejoin="round">5.1</text><circle cx="53" cy="158.2" r="1.6" fill="#111" stroke="#fff" stroke-width="1.1"/><text x="55.6" y="160.1" font-size="5" fill="#6a7080" stroke="#fff" stroke-width="1.2" stroke-opacity="0.9" paint-order="stroke" stroke-linejoin="round">5</text><circle cx="31.6" cy="165.3" r="1.6" fill="#111" stroke="#fff" stroke-width="1.1"/><text x="34.2" y="167.20000000000002" font-size="5" fill="#6a7080" stroke="#fff" stroke-width="1.2" stroke-opacity="0.9" paint-order="stroke" stroke-linejoin="round">5.3</text></g><g transform="translate(0,137.7)"><g clip-path="url(#saclip)"><rect x="0" y="30" width="185" height="150" fill="#fa960a"/><path d="M0.0,95.0 C7.2,80.8 35.2,98.8 43.5,100.0 C51.8,101.2 47.9,100.0 50.0,102.3 C52.1,104.6 54.0,110.1 56.0,114.0 C58.0,117.9 60.2,122.2 61.8,125.8 C63.4,129.4 64.8,132.5 65.7,135.6 C66.6,138.7 65.8,142.2 67.3,144.6 C68.8,147.0 71.8,149.7 74.5,150.0 C77.2,150.3 80.6,147.3 83.6,146.4 C86.6,145.5 89.7,144.6 92.7,144.6 C95.7,144.6 99.4,146.7 101.8,146.4 C104.2,146.1 105.8,144.0 107.3,142.8 C108.8,141.6 108.9,140.3 111.0,139.1 C113.1,137.9 117.0,136.4 120.0,135.5 C123.0,134.6 126.9,134.9 129.0,133.7 C131.1,132.5 130.9,129.7 132.7,128.2 C134.5,126.7 137.9,125.3 140.0,124.6 C142.1,123.9 144.1,125.2 145.0,124.0 C145.9,122.8 145.2,120.5 145.5,117.3 C145.8,114.1 146.9,108.7 147.0,105.0 C147.1,101.3 146.0,98.2 146.0,95.0 C146.0,91.8 145.5,87.8 147.0,86.0 C148.5,84.2 152.0,84.0 155.0,84.0 C158.0,84.0 160.0,85.7 165.0,86.0 C170.0,86.3 181.7,69.5 185.0,86.0 C188.3,102.5 215.8,168.5 185.0,185.0 C154.2,201.5 30.8,200.0 0.0,185.0 C-30.8,170.0 -7.2,109.2 0.0,95.0Z" fill="#ffd700"/><ellipse cx="56" cy="157.5" rx="6.5" ry="5.5" fill="#fa960a"/><ellipse cx="119" cy="149" rx="4.5" ry="4.5" fill="#fa960a"/><path d="M150.0,86.0 C150.8,85.0 155.2,86.3 157.0,88.0 C158.8,89.7 160.5,94.0 161.0,96.0 C161.5,98.0 161.0,99.5 160.0,100.0 C159.0,100.5 156.3,100.0 155.0,99.0 C153.7,98.0 152.8,96.2 152.0,94.0 C151.2,91.8 149.2,87.0 150.0,86.0Z" fill="#fa960a"/><ellipse cx="167.5" cy="110" rx="5" ry="4" fill="#fa960a"/><path d="M140.0,118.0 C141.0,115.3 144.3,113.7 146.0,114.0 C147.7,114.3 149.3,117.3 150.0,120.0 C150.7,122.7 150.8,127.7 150.0,130.0 C149.2,132.3 146.7,134.0 145.0,134.0 C143.3,134.0 140.8,132.7 140.0,130.0 C139.2,127.3 139.0,120.7 140.0,118.0Z" fill="#fa960a"/><path d="M22.0,130.0 C23.7,128.0 27.7,128.2 30.0,128.0 C32.3,127.8 34.3,127.8 36.0,129.0 C37.7,130.2 38.8,132.7 40.0,135.0 C41.2,137.3 42.3,140.5 43.0,143.0 C43.7,145.5 44.5,148.0 44.0,150.0 C43.5,152.0 42.3,154.3 40.0,155.0 C37.7,155.7 33.0,154.8 30.0,154.0 C27.0,153.2 23.7,152.3 22.0,150.0 C20.3,147.7 20.0,143.3 20.0,140.0 C20.0,136.7 20.3,132.0 22.0,130.0Z" fill="#e4ef1e"/><path d="M22.0,152.0 C23.7,151.0 27.0,153.3 30.0,154.0 C33.0,154.7 37.2,155.2 40.0,156.0 C42.8,156.8 45.3,157.7 47.0,159.0 C48.7,160.3 49.8,162.2 50.0,164.0 C50.2,165.8 49.7,168.5 48.0,170.0 C46.3,171.5 43.7,173.0 40.0,173.0 C36.3,173.0 29.3,172.2 26.0,170.0 C22.7,167.8 20.7,163.0 20.0,160.0 C19.3,157.0 20.3,153.0 22.0,152.0Z" fill="#e4ef1e"/><ellipse cx="90" cy="161.8" rx="6" ry="4.5" fill="#e4ef1e"/><path d="M72.0,73.7 C72.8,71.5 77.3,73.2 80.0,73.7 C82.7,74.2 85.3,75.7 88.0,76.5 C90.7,77.3 93.8,77.6 96.0,78.5 C98.2,79.4 100.0,80.1 101.0,82.0 C102.0,83.9 102.2,87.5 102.0,90.0 C101.8,92.5 99.7,95.3 100.0,97.0 C100.3,98.7 102.0,99.5 104.0,100.0 C106.0,100.5 109.0,99.8 112.0,100.0 C115.0,100.2 119.3,100.3 122.0,101.0 C124.7,101.7 126.8,102.7 128.0,104.0 C129.2,105.3 130.0,107.7 129.0,109.0 C128.0,110.3 124.2,111.2 122.0,112.0 C119.8,112.8 118.3,113.0 116.0,114.0 C113.7,115.0 110.7,116.8 108.0,118.0 C105.3,119.2 103.0,120.2 100.0,121.0 C97.0,121.8 92.2,123.7 90.0,123.0 C87.8,122.3 88.0,119.8 87.0,117.0 C86.0,114.2 85.5,109.5 84.0,106.0 C82.5,102.5 79.7,99.4 78.3,96.2 C76.9,93.0 76.5,90.5 75.5,86.8 C74.5,83.0 71.2,75.9 72.0,73.7Z" fill="#ff5000"/><path d="M102.0,66.0 C102.7,63.5 105.3,63.7 108.0,63.0 C110.7,62.3 115.0,61.8 118.0,62.0 C121.0,62.2 123.8,63.0 126.0,64.0 C128.2,65.0 130.2,66.0 131.0,68.0 C131.8,70.0 132.2,74.2 131.0,76.0 C129.8,77.8 127.2,78.3 124.0,79.0 C120.8,79.7 115.3,80.2 112.0,80.0 C108.7,79.8 105.7,80.3 104.0,78.0 C102.3,75.7 101.3,68.5 102.0,66.0Z" fill="#ff5000"/><path d="M117.0,56.0 C117.5,54.0 120.2,52.5 122.0,51.0 C123.8,49.5 125.8,48.2 128.0,47.0 C130.2,45.8 133.3,44.0 135.0,44.0 C136.7,44.0 137.7,45.2 138.0,47.0 C138.3,48.8 137.7,52.5 137.0,55.0 C136.3,57.5 135.8,60.3 134.0,62.0 C132.2,63.7 128.5,64.8 126.0,65.0 C123.5,65.2 120.5,64.5 119.0,63.0 C117.5,61.5 116.5,58.0 117.0,56.0Z" fill="#ff5000"/><path d="M148.0,58.0 C149.2,56.7 153.2,55.5 156.0,55.0 C158.8,54.5 162.8,54.5 165.0,55.0 C167.2,55.5 168.0,55.8 169.0,58.0 C170.0,60.2 171.2,64.7 171.0,68.0 C170.8,71.3 169.5,76.3 168.0,78.0 C166.5,79.7 164.3,79.3 162.0,78.0 C159.7,76.7 156.2,72.5 154.0,70.0 C151.8,67.5 150.0,65.0 149.0,63.0 C148.0,61.0 146.8,59.3 148.0,58.0Z" fill="#ff5000"/><ellipse cx="142.7" cy="109.3" rx="3.5" ry="3.5" fill="#ff5000"/><ellipse cx="146" cy="80" rx="6" ry="5" fill="#ffd700"/><ellipse cx="138" cy="91.7" rx="4" ry="4" fill="#ffd700"/><ellipse cx="118.5" cy="88" rx="2.8" ry="2.8" fill="#ffd700"/><ellipse cx="66.4" cy="113" rx="2.6" ry="2.6" fill="#ffd700"/><ellipse cx="151.3" cy="69.5" rx="3" ry="3" fill="#ffd700"/><ellipse cx="160.5" cy="71.5" rx="3.5" ry="3.5" fill="#f20606"/><ellipse cx="93.5" cy="103" rx="3" ry="3" fill="#f20606"/><g fill="none" stroke="#1a1a1a" stroke-width="1.2" stroke-linejoin="round"><path d="M49.8,89.0 L51.3,89.9 L52.8,90.9 L53.9,92.3 L54.0,93.9 L54.9,95.4 L54.7,97.1 L56.7,97.9 L58.7,98.7 L57.9,101.1 L59.5,101.3 L61.1,101.9 L62.0,103.4 L61.9,105.2 L63.5,105.5 L65.3,105.2 L66.8,106.0 L68.3,106.1 L69.9,105.9 L71.4,106.1 L72.9,106.8 L74.5,107.2 L76.0,108.2 L77.7,108.4 L79.6,109.1 L81.1,110.3 L82.6,111.6 L84.2,113.2 L85.9,112.7 L87.6,112.4 L89.1,111.4 L90.6,110.5 L92.3,110.0 L94.0,110.4 L95.4,109.1 L97.2,109.8 L98.7,109.2 L100.2,108.2 L101.6,107.3 L103.4,106.9 L104.9,106.0 L106.7,106.0"/><path d="M110.7,79.5 L110.3,81.1 L108.9,82.3 L108.7,84.0 L107.7,85.7 L105.8,86.6 L104.6,88.1 L104.0,90.3 L102.6,92.1 L103.4,93.8 L103.0,95.9 L104.0,97.5 L104.5,99.0 L104.2,100.5 L104.5,102.0 L105.3,103.3 L106.0,104.6 L106.7,106.0 L108.3,107.0 L109.9,108.1 L111.7,109.0 L113.1,110.5 L113.9,111.8 L115.6,112.3 L116.3,113.7 L117.8,112.4 L119.3,111.1 L121.2,110.5 L122.6,109.1 L124.4,108.1 L125.9,106.8 L127.6,105.6 L129.1,104.7 L130.0,103.2 L130.2,101.5 L129.8,99.7 L129.3,98.0 L129.5,96.1 L128.0,95.0 L127.3,93.0 L125.5,92.1 L123.8,92.4 L122.3,91.4 L120.6,91.5 L119.1,90.9 L117.4,90.8 L116.6,88.8 L116.1,86.7 L116.8,85.2 L117.1,83.6 L117.8,82.1 L118.1,80.5"/><path d="M116.3,113.7 L117.2,115.7 L118.0,117.8"/><path d="M99.0,77.0 L100.6,77.4 L102.4,77.6 L104.0,78.0 L105.7,78.5 L107.4,78.4 L108.9,79.5 L110.7,79.5 L112.5,80.1 L114.4,80.2 L116.3,79.8 L118.1,80.5 L119.9,80.5 L121.8,80.3 L123.7,80.2 L125.5,80.5 L126.6,81.7 L127.9,82.5 L129.5,82.7 L131.4,82.9 L132.7,84.5 L134.5,84.8 L136.2,85.4 L137.9,84.9 L139.5,84.4 L141.3,84.6 L143.0,84.0 L144.5,83.5 L146.0,83.4 L147.5,82.9 L148.8,81.9 L150.5,82.2 L151.9,81.5"/><path d="M135.8,66.2 L134.8,67.6 L133.6,68.9 L132.6,70.3 L131.9,71.8 L132.2,73.5 L132.0,75.1 L131.8,76.7 L131.7,78.4 L132.2,80.1 L131.8,81.8 L131.8,83.5"/><path d="M114.0,60.5 L115.3,61.3 L116.5,62.2 L118.0,63.0 L119.6,63.6 L121.5,63.6 L122.9,64.6 L124.7,64.5 L126.2,65.4 L127.8,65.8 L129.3,66.9 L131.0,67.0 L132.6,67.0 L134.2,66.6 L135.8,66.2 L137.0,65.0 L138.3,63.9 L139.1,62.3 L140.6,61.4 L142.2,60.7 L143.7,59.8 L145.6,60.1 L147.1,59.0 L148.7,58.3 L150.4,59.1 L151.9,58.0 L153.6,58.6 L155.2,58.2 L156.8,58.3 L158.4,58.7 L159.9,59.6 L161.7,58.9 L163.2,59.8 L165.2,59.5 L166.9,60.8 L168.9,60.6"/><path d="M153.5,42.0 L153.5,44.5 L152.7,46.3 L151.2,47.6 L150.3,49.3 L149.3,50.8 L148.3,52.3 L147.9,54.1 L148.0,55.8 L147.7,57.4 L147.1,59.0"/><path d="M158.0,66.0 L156.9,67.6 L155.2,68.6 L154.5,70.2 L154.2,71.8 L153.4,73.3 L153.5,75.1 L153.4,76.8 L153.0,78.4 L152.0,79.8 L151.9,81.5 L151.3,83.2 L151.0,85.0 L151.0,86.7 L150.2,88.2 L150.3,89.9 L149.9,91.5 L148.6,92.4 L148.0,94.0 L146.6,94.8 L146.6,96.3 L145.4,97.6 L145.5,99.2 L145.1,101.4 L144.4,103.5 L143.5,104.8 L142.0,105.4 L141.2,106.8 L138.6,107.3 L137.2,106.7 L135.7,106.5 L133.7,106.3 L131.9,105.3 L130.0,104.8 L130.0,103.2"/><path d="M149.9,91.5 L151.0,93.7 L151.7,95.2 L153.6,95.5 L154.3,97.0 L154.7,98.9 L156.1,100.5 L156.4,102.4 L156.6,104.1 L158.4,105.1 L158.6,106.8 L159.3,108.7 L160.8,110.1 L162.0,111.6 L163.5,112.8"/><path d="M142.3,106.8 L143.5,107.8 L144.5,109.0 L145.6,110.0 L146.7,111.2 L147.7,112.3 L149.2,112.6 L150.6,113.2 L152.1,113.4 L153.7,112.8 L155.4,113.0 L156.9,112.0 L158.6,112.3 L160.0,113.0 L161.3,113.9 L162.5,115.0"/><path d="M68.7,139.3 L70.5,139.5 L72.2,140.1 L73.9,140.5 L75.8,139.9 L77.5,140.4 L79.3,140.5 L81.0,140.2 L82.7,139.9 L84.4,139.1 L86.2,139.3 L87.6,138.0 L89.4,137.5 L91.2,137.1 L92.7,136.0 L94.3,135.4 L96.0,135.5 L97.6,135.0 L99.3,134.9 L100.5,136.0 L101.9,136.8 L103.6,137.1 L105.2,137.0 L106.9,137.7 L108.5,136.6 L110.2,137.1 L112.0,137.0 L113.8,136.7 L115.3,135.4 L117.2,135.6 L118.9,134.9 L120.6,134.4 L122.4,134.3 L123.7,132.9 L125.5,132.7 L126.6,131.7 L128.0,130.9 L128.8,129.6 L129.8,128.4 L128.5,127.4 L127.6,126.0"/><path d="M84.2,113.2 L83.6,114.7 L82.1,115.6 L81.5,117.1 L80.4,118.3 L81.8,118.9 L82.9,120.1 L84.1,121.1 L85.3,122.0 L86.5,123.8 L87.7,125.6 L88.9,127.4 L90.1,129.2 L89.8,130.8 L89.2,132.4 L88.1,133.7 L87.7,135.3 L87.5,137.0 L86.7,138.4 L86.5,140.1"/><path d="M110.2,137.1 L110.5,138.8 L111.0,140.5 L111.8,142.0 L112.4,143.6 L112.7,145.3 L113.1,146.9 L112.6,148.6 L113.5,150.2 L114.5,151.7 L115.5,153.3 L116.2,154.9 L116.7,156.7 L117.5,158.3 L117.8,160.0"/><path d="M68.7,139.3 L68.9,141.0 L69.7,142.5 L70.3,144.1 L70.8,145.7 L72.1,147.0 L72.3,148.7 L73.1,150.2 L73.6,151.8 L74.5,153.1 L75.7,154.1 L76.9,155.2 L77.5,156.7 L78.4,158.0 L78.7,159.7 L80.5,160.4 L81.1,161.9 L81.8,163.3 L82.5,165.0 L84.0,166.0"/><path d="M141.1,117.0 L142.0,118.5 L142.0,120.3 L142.7,121.8 L143.1,123.5 L143.9,125.0 L144.4,126.6 L145.8,127.6 L146.5,129.3 L147.7,130.5 L149.2,131.5 L149.8,132.9 L150.4,134.3 L151.3,135.6 L151.6,137.1"/><path d="M19.8,132.2 L21.4,132.5 L22.8,131.3 L24.4,131.0 L26.0,131.3 L27.2,129.7 L26.8,127.6 L27.8,126.0 L29.0,124.9 L30.7,124.7 L32.0,123.7 L33.7,123.5 L34.9,122.4 L35.8,125.0 L36.9,126.3 L37.1,128.3 L38.4,129.5 L39.9,131.1 L41.1,133.0 L41.3,134.8 L41.2,136.7 L42.0,138.4 L42.4,140.2 L42.7,142.1 L43.8,143.7 L44.1,145.5 L45.4,147.1 L45.5,149.0 L47.0,150.7 L49.0,151.6 L50.0,154.3 L51.3,153.3 L52.3,152.0 L53.5,150.8 L55.2,150.4 L56.2,149.0 L57.6,148.2 L59.1,147.6 L60.4,146.6 L61.5,145.4 L63.3,145.7 L65.0,144.9 L66.8,144.6 L68.3,143.9 L69.5,142.8 L69.2,141.0 L68.7,139.3"/><path d="M21.6,155.2 L23.9,155.2 L26.0,154.3 L27.2,155.3 L28.7,155.8 L30.4,155.5 L31.6,156.6 L33.1,157.0 L34.9,157.2 L36.6,157.6 L38.4,157.8 L40.1,157.1 L41.9,156.9 L43.8,157.0 L45.3,156.3 L46.8,155.3 L48.4,154.9 L50.0,154.3"/><path d="M38.4,157.8 L39.1,159.3 L39.9,160.7 L41.4,161.6 L42.0,163.2 L42.4,164.9 L44.1,165.6 L44.5,167.3 L45.5,168.5 L46.2,170.2 L46.0,172.0"/><path d="M50.0,154.3 L51.0,155.6 L51.3,157.4 L52.3,158.8 L53.8,159.8 L54.4,161.4 L53.5,163.1 L53.3,164.9 L53.6,166.9 L52.6,168.5"/><path d="M152.4,91.1 L154.1,90.6 L155.6,89.5 L157.2,89.1 L158.9,89.1 L160.5,89.5"/></g></g><path d="M6.1,108.2 L9.2,105.1 L12.3,103.1 L15.3,105.1 L16.4,108.5 L22.6,110.0 L32.0,111.0 L39.5,107.0 L43.0,105.5 L43.1,68.0 L46.6,70.5 L49.0,74.5 L50.6,79.4 L50.6,85.8 L49.8,89.0 L52.3,89.8 L57.1,89.8 L61.9,88.2 L66.8,85.0 L71.6,80.2 L74.8,75.3 L78.0,73.7 L80.0,73.7 L85.2,76.7 L92.7,77.7 L98.4,78.6 L102.0,76.7 L104.0,70.5 L105.8,67.3 L110.2,65.1 L114.5,61.5 L116.7,57.1 L120.4,54.2 L124.7,52.0 L129.1,47.6 L133.5,44.7 L137.8,41.8 L142.2,41.1 L148.0,41.8 L152.4,42.5 L157.5,41.8 L161.1,42.5 L164.0,46.2 L166.2,52.0 L167.6,57.8 L169.1,65.1 L169.5,70.9 L169.2,77.5 L168.6,79.0 L164.4,80.0 L160.7,81.8 L158.3,85.8 L158.3,89.3 L160.7,92.3 L164.4,94.0 L168.6,95.0 L169.9,94.5 L170.0,91.2 L172.8,90.6 L178.9,90.6 L178.3,94.0 L177.1,100.1 L175.9,106.2 L174.7,109.5 L172.4,112.3 L167.3,118.4 L162.1,122.5 L157.0,128.6 L150.9,134.8 L144.8,140.9 L136.6,147.0 L128.4,153.2 L120.2,157.3 L112.0,161.3 L102.2,163.4 L96.1,165.4 L90.0,166.5 L85.9,165.4 L80.0,164.2 L73.6,165.5 L67.3,167.4 L60.9,167.4 L55.8,168.6 L52.0,168.6 L49.5,170.5 L45.6,172.5 L41.8,173.1 L38.0,171.2 L34.2,169.9 L30.4,167.4 L27.8,168.6 L25.9,167.4 L25.3,164.2 L24.0,159.1 L22.7,154.0 L20.5,153.2 L21.3,151.6 L24.1,150.8 L24.9,148.4 L24.9,144.4 L23.7,141.1 L21.3,137.9 L18.9,133.9 L16.5,129.8 L13.6,125.0 L10.2,117.0 L6.1,109.2Z" fill="none" stroke="#1a1a1a" stroke-width="1.3" stroke-linejoin="round"/><path d="M118.0,119.8 L120.4,117.4 L123.2,115.1 L125.5,112.2 L128.8,110.4 L132.6,108.9 L135.4,109.4 L138.2,112.2 L141.1,115.1 L142.5,116.9 L140.1,119.8 L137.3,122.6 L133.5,124.5 L130.2,126.4 L127.9,129.2 L125.1,129.2 L122.2,127.3 L120.4,124.5 L118.5,121.6Z" fill="#fff" stroke="#1a1a1a" stroke-width="1.2" stroke-linejoin="round"/><g fill="#000"><circle cx="135.7" cy="62.2" r="1.3"/><circle cx="135" cy="66.9" r="1.3"/><circle cx="124.9" cy="71.6" r="1.3"/><circle cx="122.9" cy="74.7" r="1.3"/><circle cx="125.6" cy="78.3" r="1.3"/><circle cx="121.5" cy="78.3" r="1.3"/><circle cx="132.3" cy="73" r="1.3"/><circle cx="132.3" cy="77" r="1.3"/><circle cx="135" cy="79.7" r="1.3"/><circle cx="141.7" cy="74.3" r="1.3"/><circle cx="151.1" cy="70.3" r="1.3"/><circle cx="153.1" cy="73.6" r="1.3"/><circle cx="155.2" cy="70.3" r="1.3"/><circle cx="157.2" cy="65.6" r="1.3"/><circle cx="155.2" cy="79.7" r="1.3"/><circle cx="117.5" cy="87.1" r="1.3"/><circle cx="124.2" cy="88.4" r="1.3"/><circle cx="152.9" cy="74.3" r="1.3"/><circle cx="152.1" cy="84" r="1.3"/><circle cx="154.5" cy="87.2" r="1.3"/><circle cx="153.7" cy="91.2" r="1.3"/><circle cx="170.6" cy="96" r="1.3"/><circle cx="171.4" cy="103.3" r="1.3"/><circle cx="148" cy="100.9" r="1.3"/><circle cx="156.9" cy="100.9" r="1.3"/><circle cx="146.4" cy="112.2" r="1.3"/><circle cx="141.6" cy="89.6" r="1.3"/><circle cx="111.8" cy="95.9" r="1.3"/><circle cx="90.9" cy="103.5" r="1.3"/><circle cx="95.2" cy="103.3" r="1.3"/><circle cx="114.5" cy="107.6" r="1.3"/><circle cx="117.8" cy="104.9" r="1.3"/><circle cx="93" cy="123" r="1.3"/><circle cx="84.2" cy="113" r="1.3"/><circle cx="117.8" cy="86.7" r="1.3"/><circle cx="140.9" cy="110.1" r="1.3"/><circle cx="147" cy="112.8" r="1.3"/><circle cx="151.7" cy="114.1" r="1.3"/><circle cx="150.4" cy="118.2" r="1.3"/><circle cx="136.2" cy="126.9" r="1.3"/><circle cx="30.6" cy="145.9" r="1.3"/><circle cx="32.7" cy="158.8" r="1.3"/><circle cx="38.8" cy="159.2" r="1.3"/><circle cx="101" cy="129.8" r="1.3"/><circle cx="70.5" cy="147.1" r="1.3"/><circle cx="68.3" cy="161.4" r="1.3"/><circle cx="91.6" cy="162.9" r="1.3"/><circle cx="90.9" cy="165.2" r="1.3"/><circle cx="114.2" cy="150.1" r="1.3"/><circle cx="115.7" cy="152.4" r="1.3"/><circle cx="120.2" cy="150.9" r="1.3"/><circle cx="121.7" cy="153.9" r="1.3"/><circle cx="153.1" cy="45.4" r="1.3"/><circle cx="140.9" cy="90" r="1.3"/><circle cx="118.7" cy="77.2" r="1.3"/></g><circle cx="33.7" cy="112.2" r="1.6" fill="#111" stroke="#fff" stroke-width="1.1"/><text x="36.300000000000004" y="114.10000000000001" font-size="5" fill="#6a7080" stroke="#fff" stroke-width="1.2" stroke-opacity="0.9" paint-order="stroke" stroke-linejoin="round">7.7</text><circle cx="66" cy="113" r="1.6" fill="#111" stroke="#fff" stroke-width="1.1"/><text x="68.6" y="114.9" font-size="5" fill="#6a7080" stroke="#fff" stroke-width="1.2" stroke-opacity="0.9" paint-order="stroke" stroke-linejoin="round">7.9</text><circle cx="102.4" cy="98.8" r="1.6" fill="#111" stroke="#fff" stroke-width="1.1"/><text x="105.0" y="100.7" font-size="5" fill="#6a7080" stroke="#fff" stroke-width="1.2" stroke-opacity="0.9" paint-order="stroke" stroke-linejoin="round">8.8</text><circle cx="106.4" cy="111.6" r="1.6" fill="#111" stroke="#fff" stroke-width="1.1"/><text x="109.0" y="113.5" font-size="5" fill="#6a7080" stroke="#fff" stroke-width="1.2" stroke-opacity="0.9" paint-order="stroke" stroke-linejoin="round">9.2</text><circle cx="110.1" cy="75.2" r="1.6" fill="#111" stroke="#fff" stroke-width="1.1"/><text x="112.69999999999999" y="77.10000000000001" font-size="5" fill="#6a7080" stroke="#fff" stroke-width="1.2" stroke-opacity="0.9" paint-order="stroke" stroke-linejoin="round">10.2</text><circle cx="124.2" cy="59.5" r="1.6" fill="#111" stroke="#fff" stroke-width="1.1"/><text x="126.8" y="61.4" font-size="5" fill="#6a7080" stroke="#fff" stroke-width="1.2" stroke-opacity="0.9" paint-order="stroke" stroke-linejoin="round">9.9</text><circle cx="147.8" cy="57.5" r="1.6" fill="#111" stroke="#fff" stroke-width="1.1"/><text x="150.4" y="59.4" font-size="5" fill="#6a7080" stroke="#fff" stroke-width="1.2" stroke-opacity="0.9" paint-order="stroke" stroke-linejoin="round">9.2</text><circle cx="143" cy="78.7" r="1.6" fill="#111" stroke="#fff" stroke-width="1.1"/><text x="145.6" y="80.60000000000001" font-size="5" fill="#6a7080" stroke="#fff" stroke-width="1.2" stroke-opacity="0.9" paint-order="stroke" stroke-linejoin="round">9.6</text><circle cx="159.2" cy="71.6" r="1.6" fill="#111" stroke="#fff" stroke-width="1.1"/><text x="161.79999999999998" y="73.5" font-size="5" fill="#6a7080" stroke="#fff" stroke-width="1.2" stroke-opacity="0.9" paint-order="stroke" stroke-linejoin="round">10</text><circle cx="153.1" cy="116.8" r="1.6" fill="#111" stroke="#fff" stroke-width="1.1"/><text x="155.7" y="118.7" font-size="5" fill="#6a7080" stroke="#fff" stroke-width="1.2" stroke-opacity="0.9" paint-order="stroke" stroke-linejoin="round">8.4</text><circle cx="164.5" cy="110.1" r="1.6" fill="#111" stroke="#fff" stroke-width="1.1"/><text x="167.1" y="112.0" font-size="5" fill="#6a7080" stroke="#fff" stroke-width="1.2" stroke-opacity="0.9" paint-order="stroke" stroke-linejoin="round">9.1</text><circle cx="121.4" cy="142.4" r="1.6" fill="#111" stroke="#fff" stroke-width="1.1"/><text x="124.0" y="144.3" font-size="5" fill="#6a7080" stroke="#fff" stroke-width="1.2" stroke-opacity="0.9" paint-order="stroke" stroke-linejoin="round">7.6</text><circle cx="100.7" cy="141.8" r="1.6" fill="#111" stroke="#fff" stroke-width="1.1"/><text x="103.3" y="143.70000000000002" font-size="5" fill="#6a7080" stroke="#fff" stroke-width="1.2" stroke-opacity="0.9" paint-order="stroke" stroke-linejoin="round">9</text><circle cx="53" cy="158.2" r="1.6" fill="#111" stroke="#fff" stroke-width="1.1"/><text x="55.6" y="160.1" font-size="5" fill="#6a7080" stroke="#fff" stroke-width="1.2" stroke-opacity="0.9" paint-order="stroke" stroke-linejoin="round">8.9</text><circle cx="31.6" cy="165.3" r="1.6" fill="#111" stroke="#fff" stroke-width="1.1"/><text x="34.2" y="167.20000000000002" font-size="5" fill="#6a7080" stroke="#fff" stroke-width="1.2" stroke-opacity="0.9" paint-order="stroke" stroke-linejoin="round">8.9</text></g><g transform="translate(181,137.7)"><g clip-path="url(#saclip)"><rect x="0" y="30" width="185" height="150" fill="#ffd700"/><path d="M-5.0,60.0 C2.5,50.2 35.0,53.7 45.0,55.0 C55.0,56.3 52.2,64.5 55.0,68.0 C57.8,71.5 59.5,74.0 62.0,76.0 C64.5,78.0 68.7,78.0 70.0,80.0 C71.3,82.0 69.2,86.0 70.0,88.0 C70.8,90.0 72.5,91.2 75.0,92.0 C77.5,92.8 82.2,93.7 85.0,93.0 C87.8,92.3 90.2,90.2 92.0,88.0 C93.8,85.8 94.7,82.7 96.0,80.0 C97.3,77.3 98.7,74.7 100.0,72.0 C101.3,69.3 102.0,66.7 104.0,64.0 C106.0,61.3 109.3,58.7 112.0,56.0 C114.7,53.3 117.0,50.7 120.0,48.0 C123.0,45.3 126.7,42.0 130.0,40.0 C133.3,38.0 136.7,36.7 140.0,36.0 C143.3,35.3 148.0,34.3 150.0,36.0 C152.0,37.7 152.3,43.0 152.0,46.0 C151.7,49.0 149.7,51.7 148.0,54.0 C146.3,56.3 143.7,58.0 142.0,60.0 C140.3,62.0 139.3,64.0 138.0,66.0 C136.7,68.0 135.3,70.0 134.0,72.0 C132.7,74.0 132.0,76.6 130.0,78.0 C128.0,79.4 124.7,80.1 122.0,80.5 C119.3,80.9 116.7,80.2 114.0,80.5 C111.3,80.8 108.2,80.8 106.0,82.0 C103.8,83.2 102.5,85.3 101.0,88.0 C99.5,90.7 98.5,95.3 97.0,98.0 C95.5,100.7 93.5,102.0 92.0,104.0 C90.5,106.0 89.7,108.0 88.0,110.0 C86.3,112.0 84.0,114.5 82.0,116.0 C80.0,117.5 78.0,118.2 76.0,119.0 C74.0,119.8 71.7,120.2 70.0,121.0 C68.3,121.8 66.3,122.2 66.0,124.0 C65.7,125.8 67.3,129.3 68.0,132.0 C68.7,134.7 69.3,137.7 70.0,140.0 C70.7,142.3 72.3,144.3 72.0,146.0 C71.7,147.7 69.7,149.2 68.0,150.0 C66.3,150.8 64.0,151.2 62.0,151.0 C60.0,150.8 57.7,150.5 56.0,149.0 C54.3,147.5 53.3,144.5 52.0,142.0 C50.7,139.5 49.0,136.3 48.0,134.0 C47.0,131.7 46.7,129.7 46.0,128.0 C45.3,126.3 45.7,124.8 44.0,124.0 C42.3,123.2 38.8,123.2 36.0,123.0 C33.2,122.8 30.4,123.3 27.5,123.0 C24.6,122.7 21.6,122.0 18.6,121.0 C15.6,120.0 12.8,118.0 9.7,116.8 C6.6,115.6 2.4,123.5 0.0,114.0 C-2.4,104.5 -12.5,69.8 -5.0,60.0Z" fill="#fa960a"/><path d="M45.0,122.0 C45.3,121.3 48.2,122.3 50.0,123.0 C51.8,123.7 54.0,125.2 56.0,126.0 C58.0,126.8 60.3,127.2 62.0,128.0 C63.7,128.8 65.7,129.5 66.0,131.0 C66.3,132.5 65.3,136.2 64.0,137.0 C62.7,137.8 60.0,137.0 58.0,136.0 C56.0,135.0 53.7,132.5 52.0,131.0 C50.3,129.5 49.2,128.5 48.0,127.0 C46.8,125.5 44.7,122.7 45.0,122.0Z" fill="#ffd700"/><ellipse cx="75.5" cy="145.5" rx="6" ry="6" fill="#fa960a"/><path d="M98.0,108.0 C100.0,106.2 106.3,105.5 110.0,105.0 C113.7,104.5 117.0,104.7 120.0,105.0 C123.0,105.3 125.7,104.2 128.0,107.0 C130.3,109.8 132.0,118.5 134.0,122.0 C136.0,125.5 137.7,126.3 140.0,128.0 C142.3,129.7 146.3,130.0 148.0,132.0 C149.7,134.0 150.3,137.3 150.0,140.0 C149.7,142.7 148.3,146.7 146.0,148.0 C143.7,149.3 139.3,149.0 136.0,148.0 C132.7,147.0 129.0,143.3 126.0,142.0 C123.0,140.7 120.7,141.0 118.0,140.0 C115.3,139.0 111.7,138.3 110.0,136.0 C108.3,133.7 108.7,129.0 108.0,126.0 C107.3,123.0 107.7,119.7 106.0,118.0 C104.3,116.3 99.3,117.7 98.0,116.0 C96.7,114.3 96.0,109.8 98.0,108.0Z" fill="#fa960a"/><ellipse cx="102.5" cy="142.5" rx="7" ry="5" fill="#fa960a"/><ellipse cx="58" cy="154" rx="9" ry="6" fill="#fa960a"/><ellipse cx="27.5" cy="159" rx="3.5" ry="4" fill="#fa960a"/><path d="M150.0,60.0 C151.7,57.7 157.0,57.7 160.0,58.0 C163.0,58.3 166.3,59.2 168.0,62.0 C169.7,64.8 169.8,70.7 170.0,75.0 C170.2,79.3 170.7,85.5 169.0,88.0 C167.3,90.5 162.8,90.7 160.0,90.0 C157.2,89.3 153.7,87.0 152.0,84.0 C150.3,81.0 150.3,76.0 150.0,72.0 C149.7,68.0 148.3,62.3 150.0,60.0Z" fill="#fa960a"/><path d="M136.0,100.0 C138.0,96.7 143.0,97.3 146.0,98.0 C149.0,98.7 153.0,101.3 154.0,104.0 C155.0,106.7 153.3,111.3 152.0,114.0 C150.7,116.7 148.0,118.3 146.0,120.0 C144.0,121.7 142.0,124.3 140.0,124.0 C138.0,123.7 134.7,122.0 134.0,118.0 C133.3,114.0 134.0,103.3 136.0,100.0Z" fill="#fa960a"/><path d="M44.5,68.0 C44.8,66.8 46.9,69.7 48.0,71.0 C49.1,72.3 50.5,73.7 51.0,76.0 C51.5,78.3 51.5,83.5 51.0,85.0 C50.5,86.5 48.8,86.2 48.0,85.0 C47.2,83.8 46.6,80.8 46.0,78.0 C45.4,75.2 44.2,69.2 44.5,68.0Z" fill="#ffd700"/><ellipse cx="174" cy="93" rx="6" ry="5" fill="#fa960a"/><ellipse cx="156" cy="88" rx="5" ry="5" fill="#fa960a"/><ellipse cx="90" cy="102" rx="3.5" ry="3.5" fill="#ff5000"/><ellipse cx="122" cy="58" rx="4" ry="4" fill="#ff5000"/><ellipse cx="108" cy="74" rx="5" ry="5" fill="#ff5000"/><ellipse cx="158" cy="76" rx="5" ry="5" fill="#ff5000"/><ellipse cx="134" cy="126" rx="4.5" ry="4.5" fill="#ff5000"/><ellipse cx="125" cy="70" rx="3" ry="3" fill="#ff5000"/><ellipse cx="93" cy="122" rx="6" ry="7" fill="#e4ef1e"/><ellipse cx="93" cy="122.5" rx="2.5" ry="2.5" fill="#b2dc14"/><ellipse cx="117" cy="86" rx="3" ry="3" fill="#e4ef1e"/><ellipse cx="30.5" cy="145.5" rx="3.5" ry="3.5" fill="#e4ef1e"/><g fill="none" stroke="#1a1a1a" stroke-width="1.2" stroke-linejoin="round"><path d="M49.8,89.0 L51.3,89.9 L52.8,90.9 L53.9,92.3 L54.0,93.9 L54.9,95.4 L54.7,97.1 L56.7,97.9 L58.7,98.7 L57.9,101.1 L59.5,101.3 L61.1,101.9 L62.0,103.4 L61.9,105.2 L63.5,105.5 L65.3,105.2 L66.8,106.0 L68.3,106.1 L69.9,105.9 L71.4,106.1 L72.9,106.8 L74.5,107.2 L76.0,108.2 L77.7,108.4 L79.6,109.1 L81.1,110.3 L82.6,111.6 L84.2,113.2 L85.9,112.7 L87.6,112.4 L89.1,111.4 L90.6,110.5 L92.3,110.0 L94.0,110.4 L95.4,109.1 L97.2,109.8 L98.7,109.2 L100.2,108.2 L101.6,107.3 L103.4,106.9 L104.9,106.0 L106.7,106.0"/><path d="M110.7,79.5 L110.3,81.1 L108.9,82.3 L108.7,84.0 L107.7,85.7 L105.8,86.6 L104.6,88.1 L104.0,90.3 L102.6,92.1 L103.4,93.8 L103.0,95.9 L104.0,97.5 L104.5,99.0 L104.2,100.5 L104.5,102.0 L105.3,103.3 L106.0,104.6 L106.7,106.0 L108.3,107.0 L109.9,108.1 L111.7,109.0 L113.1,110.5 L113.9,111.8 L115.6,112.3 L116.3,113.7 L117.8,112.4 L119.3,111.1 L121.2,110.5 L122.6,109.1 L124.4,108.1 L125.9,106.8 L127.6,105.6 L129.1,104.7 L130.0,103.2 L130.2,101.5 L129.8,99.7 L129.3,98.0 L129.5,96.1 L128.0,95.0 L127.3,93.0 L125.5,92.1 L123.8,92.4 L122.3,91.4 L120.6,91.5 L119.1,90.9 L117.4,90.8 L116.6,88.8 L116.1,86.7 L116.8,85.2 L117.1,83.6 L117.8,82.1 L118.1,80.5"/><path d="M116.3,113.7 L117.2,115.7 L118.0,117.8"/><path d="M99.0,77.0 L100.6,77.4 L102.4,77.6 L104.0,78.0 L105.7,78.5 L107.4,78.4 L108.9,79.5 L110.7,79.5 L112.5,80.1 L114.4,80.2 L116.3,79.8 L118.1,80.5 L119.9,80.5 L121.8,80.3 L123.7,80.2 L125.5,80.5 L126.6,81.7 L127.9,82.5 L129.5,82.7 L131.4,82.9 L132.7,84.5 L134.5,84.8 L136.2,85.4 L137.9,84.9 L139.5,84.4 L141.3,84.6 L143.0,84.0 L144.5,83.5 L146.0,83.4 L147.5,82.9 L148.8,81.9 L150.5,82.2 L151.9,81.5"/><path d="M135.8,66.2 L134.8,67.6 L133.6,68.9 L132.6,70.3 L131.9,71.8 L132.2,73.5 L132.0,75.1 L131.8,76.7 L131.7,78.4 L132.2,80.1 L131.8,81.8 L131.8,83.5"/><path d="M114.0,60.5 L115.3,61.3 L116.5,62.2 L118.0,63.0 L119.6,63.6 L121.5,63.6 L122.9,64.6 L124.7,64.5 L126.2,65.4 L127.8,65.8 L129.3,66.9 L131.0,67.0 L132.6,67.0 L134.2,66.6 L135.8,66.2 L137.0,65.0 L138.3,63.9 L139.1,62.3 L140.6,61.4 L142.2,60.7 L143.7,59.8 L145.6,60.1 L147.1,59.0 L148.7,58.3 L150.4,59.1 L151.9,58.0 L153.6,58.6 L155.2,58.2 L156.8,58.3 L158.4,58.7 L159.9,59.6 L161.7,58.9 L163.2,59.8 L165.2,59.5 L166.9,60.8 L168.9,60.6"/><path d="M153.5,42.0 L153.5,44.5 L152.7,46.3 L151.2,47.6 L150.3,49.3 L149.3,50.8 L148.3,52.3 L147.9,54.1 L148.0,55.8 L147.7,57.4 L147.1,59.0"/><path d="M158.0,66.0 L156.9,67.6 L155.2,68.6 L154.5,70.2 L154.2,71.8 L153.4,73.3 L153.5,75.1 L153.4,76.8 L153.0,78.4 L152.0,79.8 L151.9,81.5 L151.3,83.2 L151.0,85.0 L151.0,86.7 L150.2,88.2 L150.3,89.9 L149.9,91.5 L148.6,92.4 L148.0,94.0 L146.6,94.8 L146.6,96.3 L145.4,97.6 L145.5,99.2 L145.1,101.4 L144.4,103.5 L143.5,104.8 L142.0,105.4 L141.2,106.8 L138.6,107.3 L137.2,106.7 L135.7,106.5 L133.7,106.3 L131.9,105.3 L130.0,104.8 L130.0,103.2"/><path d="M149.9,91.5 L151.0,93.7 L151.7,95.2 L153.6,95.5 L154.3,97.0 L154.7,98.9 L156.1,100.5 L156.4,102.4 L156.6,104.1 L158.4,105.1 L158.6,106.8 L159.3,108.7 L160.8,110.1 L162.0,111.6 L163.5,112.8"/><path d="M142.3,106.8 L143.5,107.8 L144.5,109.0 L145.6,110.0 L146.7,111.2 L147.7,112.3 L149.2,112.6 L150.6,113.2 L152.1,113.4 L153.7,112.8 L155.4,113.0 L156.9,112.0 L158.6,112.3 L160.0,113.0 L161.3,113.9 L162.5,115.0"/><path d="M68.7,139.3 L70.5,139.5 L72.2,140.1 L73.9,140.5 L75.8,139.9 L77.5,140.4 L79.3,140.5 L81.0,140.2 L82.7,139.9 L84.4,139.1 L86.2,139.3 L87.6,138.0 L89.4,137.5 L91.2,137.1 L92.7,136.0 L94.3,135.4 L96.0,135.5 L97.6,135.0 L99.3,134.9 L100.5,136.0 L101.9,136.8 L103.6,137.1 L105.2,137.0 L106.9,137.7 L108.5,136.6 L110.2,137.1 L112.0,137.0 L113.8,136.7 L115.3,135.4 L117.2,135.6 L118.9,134.9 L120.6,134.4 L122.4,134.3 L123.7,132.9 L125.5,132.7 L126.6,131.7 L128.0,130.9 L128.8,129.6 L129.8,128.4 L128.5,127.4 L127.6,126.0"/><path d="M84.2,113.2 L83.6,114.7 L82.1,115.6 L81.5,117.1 L80.4,118.3 L81.8,118.9 L82.9,120.1 L84.1,121.1 L85.3,122.0 L86.5,123.8 L87.7,125.6 L88.9,127.4 L90.1,129.2 L89.8,130.8 L89.2,132.4 L88.1,133.7 L87.7,135.3 L87.5,137.0 L86.7,138.4 L86.5,140.1"/><path d="M110.2,137.1 L110.5,138.8 L111.0,140.5 L111.8,142.0 L112.4,143.6 L112.7,145.3 L113.1,146.9 L112.6,148.6 L113.5,150.2 L114.5,151.7 L115.5,153.3 L116.2,154.9 L116.7,156.7 L117.5,158.3 L117.8,160.0"/><path d="M68.7,139.3 L68.9,141.0 L69.7,142.5 L70.3,144.1 L70.8,145.7 L72.1,147.0 L72.3,148.7 L73.1,150.2 L73.6,151.8 L74.5,153.1 L75.7,154.1 L76.9,155.2 L77.5,156.7 L78.4,158.0 L78.7,159.7 L80.5,160.4 L81.1,161.9 L81.8,163.3 L82.5,165.0 L84.0,166.0"/><path d="M141.1,117.0 L142.0,118.5 L142.0,120.3 L142.7,121.8 L143.1,123.5 L143.9,125.0 L144.4,126.6 L145.8,127.6 L146.5,129.3 L147.7,130.5 L149.2,131.5 L149.8,132.9 L150.4,134.3 L151.3,135.6 L151.6,137.1"/><path d="M19.8,132.2 L21.4,132.5 L22.8,131.3 L24.4,131.0 L26.0,131.3 L27.2,129.7 L26.8,127.6 L27.8,126.0 L29.0,124.9 L30.7,124.7 L32.0,123.7 L33.7,123.5 L34.9,122.4 L35.8,125.0 L36.9,126.3 L37.1,128.3 L38.4,129.5 L39.9,131.1 L41.1,133.0 L41.3,134.8 L41.2,136.7 L42.0,138.4 L42.4,140.2 L42.7,142.1 L43.8,143.7 L44.1,145.5 L45.4,147.1 L45.5,149.0 L47.0,150.7 L49.0,151.6 L50.0,154.3 L51.3,153.3 L52.3,152.0 L53.5,150.8 L55.2,150.4 L56.2,149.0 L57.6,148.2 L59.1,147.6 L60.4,146.6 L61.5,145.4 L63.3,145.7 L65.0,144.9 L66.8,144.6 L68.3,143.9 L69.5,142.8 L69.2,141.0 L68.7,139.3"/><path d="M21.6,155.2 L23.9,155.2 L26.0,154.3 L27.2,155.3 L28.7,155.8 L30.4,155.5 L31.6,156.6 L33.1,157.0 L34.9,157.2 L36.6,157.6 L38.4,157.8 L40.1,157.1 L41.9,156.9 L43.8,157.0 L45.3,156.3 L46.8,155.3 L48.4,154.9 L50.0,154.3"/><path d="M38.4,157.8 L39.1,159.3 L39.9,160.7 L41.4,161.6 L42.0,163.2 L42.4,164.9 L44.1,165.6 L44.5,167.3 L45.5,168.5 L46.2,170.2 L46.0,172.0"/><path d="M50.0,154.3 L51.0,155.6 L51.3,157.4 L52.3,158.8 L53.8,159.8 L54.4,161.4 L53.5,163.1 L53.3,164.9 L53.6,166.9 L52.6,168.5"/><path d="M152.4,91.1 L154.1,90.6 L155.6,89.5 L157.2,89.1 L158.9,89.1 L160.5,89.5"/></g></g><path d="M6.1,108.2 L9.2,105.1 L12.3,103.1 L15.3,105.1 L16.4,108.5 L22.6,110.0 L32.0,111.0 L39.5,107.0 L43.0,105.5 L43.1,68.0 L46.6,70.5 L49.0,74.5 L50.6,79.4 L50.6,85.8 L49.8,89.0 L52.3,89.8 L57.1,89.8 L61.9,88.2 L66.8,85.0 L71.6,80.2 L74.8,75.3 L78.0,73.7 L80.0,73.7 L85.2,76.7 L92.7,77.7 L98.4,78.6 L102.0,76.7 L104.0,70.5 L105.8,67.3 L110.2,65.1 L114.5,61.5 L116.7,57.1 L120.4,54.2 L124.7,52.0 L129.1,47.6 L133.5,44.7 L137.8,41.8 L142.2,41.1 L148.0,41.8 L152.4,42.5 L157.5,41.8 L161.1,42.5 L164.0,46.2 L166.2,52.0 L167.6,57.8 L169.1,65.1 L169.5,70.9 L169.2,77.5 L168.6,79.0 L164.4,80.0 L160.7,81.8 L158.3,85.8 L158.3,89.3 L160.7,92.3 L164.4,94.0 L168.6,95.0 L169.9,94.5 L170.0,91.2 L172.8,90.6 L178.9,90.6 L178.3,94.0 L177.1,100.1 L175.9,106.2 L174.7,109.5 L172.4,112.3 L167.3,118.4 L162.1,122.5 L157.0,128.6 L150.9,134.8 L144.8,140.9 L136.6,147.0 L128.4,153.2 L120.2,157.3 L112.0,161.3 L102.2,163.4 L96.1,165.4 L90.0,166.5 L85.9,165.4 L80.0,164.2 L73.6,165.5 L67.3,167.4 L60.9,167.4 L55.8,168.6 L52.0,168.6 L49.5,170.5 L45.6,172.5 L41.8,173.1 L38.0,171.2 L34.2,169.9 L30.4,167.4 L27.8,168.6 L25.9,167.4 L25.3,164.2 L24.0,159.1 L22.7,154.0 L20.5,153.2 L21.3,151.6 L24.1,150.8 L24.9,148.4 L24.9,144.4 L23.7,141.1 L21.3,137.9 L18.9,133.9 L16.5,129.8 L13.6,125.0 L10.2,117.0 L6.1,109.2Z" fill="none" stroke="#1a1a1a" stroke-width="1.3" stroke-linejoin="round"/><path d="M118.0,119.8 L120.4,117.4 L123.2,115.1 L125.5,112.2 L128.8,110.4 L132.6,108.9 L135.4,109.4 L138.2,112.2 L141.1,115.1 L142.5,116.9 L140.1,119.8 L137.3,122.6 L133.5,124.5 L130.2,126.4 L127.9,129.2 L125.1,129.2 L122.2,127.3 L120.4,124.5 L118.5,121.6Z" fill="#fff" stroke="#1a1a1a" stroke-width="1.2" stroke-linejoin="round"/><g fill="#000"><circle cx="135.7" cy="62.2" r="1.3"/><circle cx="135" cy="66.9" r="1.3"/><circle cx="124.9" cy="71.6" r="1.3"/><circle cx="122.9" cy="74.7" r="1.3"/><circle cx="125.6" cy="78.3" r="1.3"/><circle cx="121.5" cy="78.3" r="1.3"/><circle cx="132.3" cy="73" r="1.3"/><circle cx="132.3" cy="77" r="1.3"/><circle cx="135" cy="79.7" r="1.3"/><circle cx="141.7" cy="74.3" r="1.3"/><circle cx="151.1" cy="70.3" r="1.3"/><circle cx="153.1" cy="73.6" r="1.3"/><circle cx="155.2" cy="70.3" r="1.3"/><circle cx="157.2" cy="65.6" r="1.3"/><circle cx="155.2" cy="79.7" r="1.3"/><circle cx="117.5" cy="87.1" r="1.3"/><circle cx="124.2" cy="88.4" r="1.3"/><circle cx="152.9" cy="74.3" r="1.3"/><circle cx="152.1" cy="84" r="1.3"/><circle cx="154.5" cy="87.2" r="1.3"/><circle cx="153.7" cy="91.2" r="1.3"/><circle cx="170.6" cy="96" r="1.3"/><circle cx="171.4" cy="103.3" r="1.3"/><circle cx="148" cy="100.9" r="1.3"/><circle cx="156.9" cy="100.9" r="1.3"/><circle cx="146.4" cy="112.2" r="1.3"/><circle cx="141.6" cy="89.6" r="1.3"/><circle cx="111.8" cy="95.9" r="1.3"/><circle cx="90.9" cy="103.5" r="1.3"/><circle cx="95.2" cy="103.3" r="1.3"/><circle cx="114.5" cy="107.6" r="1.3"/><circle cx="117.8" cy="104.9" r="1.3"/><circle cx="93" cy="123" r="1.3"/><circle cx="84.2" cy="113" r="1.3"/><circle cx="117.8" cy="86.7" r="1.3"/><circle cx="140.9" cy="110.1" r="1.3"/><circle cx="147" cy="112.8" r="1.3"/><circle cx="151.7" cy="114.1" r="1.3"/><circle cx="150.4" cy="118.2" r="1.3"/><circle cx="136.2" cy="126.9" r="1.3"/><circle cx="30.6" cy="145.9" r="1.3"/><circle cx="32.7" cy="158.8" r="1.3"/><circle cx="38.8" cy="159.2" r="1.3"/><circle cx="101" cy="129.8" r="1.3"/><circle cx="70.5" cy="147.1" r="1.3"/><circle cx="68.3" cy="161.4" r="1.3"/><circle cx="91.6" cy="162.9" r="1.3"/><circle cx="90.9" cy="165.2" r="1.3"/><circle cx="114.2" cy="150.1" r="1.3"/><circle cx="115.7" cy="152.4" r="1.3"/><circle cx="120.2" cy="150.9" r="1.3"/><circle cx="121.7" cy="153.9" r="1.3"/><circle cx="153.1" cy="45.4" r="1.3"/><circle cx="140.9" cy="90" r="1.3"/><circle cx="118.7" cy="77.2" r="1.3"/></g><circle cx="33.7" cy="112.2" r="1.6" fill="#111" stroke="#fff" stroke-width="1.1"/><text x="36.300000000000004" y="114.10000000000001" font-size="5" fill="#6a7080" stroke="#fff" stroke-width="1.2" stroke-opacity="0.9" paint-order="stroke" stroke-linejoin="round">8.5</text><circle cx="66" cy="113" r="1.6" fill="#111" stroke="#fff" stroke-width="1.1"/><text x="68.6" y="114.9" font-size="5" fill="#6a7080" stroke="#fff" stroke-width="1.2" stroke-opacity="0.9" paint-order="stroke" stroke-linejoin="round">8.8</text><circle cx="102.4" cy="98.8" r="1.6" fill="#111" stroke="#fff" stroke-width="1.1"/><text x="105.0" y="100.7" font-size="5" fill="#6a7080" stroke="#fff" stroke-width="1.2" stroke-opacity="0.9" paint-order="stroke" stroke-linejoin="round">7.4</text><circle cx="106.4" cy="111.6" r="1.6" fill="#111" stroke="#fff" stroke-width="1.1"/><text x="109.0" y="113.5" font-size="5" fill="#6a7080" stroke="#fff" stroke-width="1.2" stroke-opacity="0.9" paint-order="stroke" stroke-linejoin="round">9.3</text><circle cx="110.1" cy="75.2" r="1.6" fill="#111" stroke="#fff" stroke-width="1.1"/><text x="112.69999999999999" y="77.10000000000001" font-size="5" fill="#6a7080" stroke="#fff" stroke-width="1.2" stroke-opacity="0.9" paint-order="stroke" stroke-linejoin="round">10.4</text><circle cx="124.2" cy="59.5" r="1.6" fill="#111" stroke="#fff" stroke-width="1.1"/><text x="126.8" y="61.4" font-size="5" fill="#6a7080" stroke="#fff" stroke-width="1.2" stroke-opacity="0.9" paint-order="stroke" stroke-linejoin="round">9.5</text><circle cx="147.8" cy="57.5" r="1.6" fill="#111" stroke="#fff" stroke-width="1.1"/><text x="150.4" y="59.4" font-size="5" fill="#6a7080" stroke="#fff" stroke-width="1.2" stroke-opacity="0.9" paint-order="stroke" stroke-linejoin="round">10</text><circle cx="143" cy="78.7" r="1.6" fill="#111" stroke="#fff" stroke-width="1.1"/><text x="145.6" y="80.60000000000001" font-size="5" fill="#6a7080" stroke="#fff" stroke-width="1.2" stroke-opacity="0.9" paint-order="stroke" stroke-linejoin="round">9.1</text><circle cx="159.2" cy="71.6" r="1.6" fill="#111" stroke="#fff" stroke-width="1.1"/><text x="161.79999999999998" y="73.5" font-size="5" fill="#6a7080" stroke="#fff" stroke-width="1.2" stroke-opacity="0.9" paint-order="stroke" stroke-linejoin="round">9.2</text><circle cx="153.1" cy="116.8" r="1.6" fill="#111" stroke="#fff" stroke-width="1.1"/><text x="155.7" y="118.7" font-size="5" fill="#6a7080" stroke="#fff" stroke-width="1.2" stroke-opacity="0.9" paint-order="stroke" stroke-linejoin="round">7.4</text><circle cx="164.5" cy="110.1" r="1.6" fill="#111" stroke="#fff" stroke-width="1.1"/><text x="167.1" y="112.0" font-size="5" fill="#6a7080" stroke="#fff" stroke-width="1.2" stroke-opacity="0.9" paint-order="stroke" stroke-linejoin="round">8.7</text><circle cx="121.4" cy="142.4" r="1.6" fill="#111" stroke="#fff" stroke-width="1.1"/><text x="124.0" y="144.3" font-size="5" fill="#6a7080" stroke="#fff" stroke-width="1.2" stroke-opacity="0.9" paint-order="stroke" stroke-linejoin="round">9.3</text><circle cx="100.7" cy="141.8" r="1.6" fill="#111" stroke="#fff" stroke-width="1.1"/><text x="103.3" y="143.70000000000002" font-size="5" fill="#6a7080" stroke="#fff" stroke-width="1.2" stroke-opacity="0.9" paint-order="stroke" stroke-linejoin="round">8.9</text><circle cx="53" cy="158.2" r="1.6" fill="#111" stroke="#fff" stroke-width="1.1"/><text x="55.6" y="160.1" font-size="5" fill="#6a7080" stroke="#fff" stroke-width="1.2" stroke-opacity="0.9" paint-order="stroke" stroke-linejoin="round">8.9</text><circle cx="31.6" cy="165.3" r="1.6" fill="#111" stroke="#fff" stroke-width="1.1"/><text x="34.2" y="167.20000000000002" font-size="5" fill="#6a7080" stroke="#fff" stroke-width="1.2" stroke-opacity="0.9" paint-order="stroke" stroke-linejoin="round">9.7</text></g><g transform="translate(361.4,137.7)"><g clip-path="url(#saclip)"><rect x="0" y="30" width="185" height="150" fill="#f20606"/><path d="M90.0,104.0 C88.6,101.7 90.5,94.0 91.5,90.0 C92.5,86.0 93.8,82.2 96.0,80.0 C98.2,77.8 101.8,77.7 105.0,77.0 C108.2,76.3 111.7,76.0 115.0,76.0 C118.3,76.0 121.7,76.7 125.0,77.0 C128.3,77.3 131.7,77.5 135.0,78.0 C138.3,78.5 142.5,78.7 145.0,80.0 C147.5,81.3 149.2,83.5 150.0,86.0 C150.8,88.5 150.7,92.3 150.0,95.0 C149.3,97.7 147.7,100.2 146.0,102.0 C144.3,103.8 142.7,105.0 140.0,106.0 C137.3,107.0 133.3,108.2 130.0,108.0 C126.7,107.8 123.3,105.7 120.0,105.0 C116.7,104.3 113.3,104.2 110.0,104.0 C106.7,103.8 103.3,104.0 100.0,104.0 C96.7,104.0 91.4,106.3 90.0,104.0Z" fill="#ff5000"/><path d="M-5.0,60.0 C2.2,39.2 33.8,58.3 43.0,60.0 C52.2,61.7 48.2,66.7 50.0,70.0 C51.8,73.3 53.1,76.9 54.0,80.0 C54.9,83.1 55.5,85.4 55.3,88.7 C55.0,92.0 52.8,96.2 52.5,100.0 C52.2,103.8 52.3,108.2 53.4,111.3 C54.5,114.4 56.5,116.6 59.0,118.8 C61.5,121.0 65.3,123.8 68.5,124.4 C71.7,125.0 75.8,123.8 78.0,122.6 C80.2,121.4 80.8,119.2 81.7,117.0 C82.6,114.8 82.5,111.6 83.6,109.4 C84.6,107.2 86.6,103.9 88.0,104.0 C89.4,104.1 91.0,107.3 92.0,110.0 C93.0,112.7 93.3,117.0 94.0,120.0 C94.7,123.0 95.0,126.0 96.0,128.0 C97.0,130.0 97.7,131.2 100.0,132.0 C102.3,132.8 107.0,133.2 110.0,133.0 C113.0,132.8 116.0,131.8 118.0,131.0 C120.0,130.2 120.4,128.2 122.0,128.0 C123.6,127.8 125.6,128.7 127.8,130.0 C130.0,131.3 131.7,135.3 135.0,136.0 C138.3,136.7 144.7,135.7 147.5,134.0 C150.3,132.3 150.2,128.3 152.0,126.0 C153.8,123.7 156.2,121.7 158.0,120.0 C159.8,118.3 161.0,117.3 163.0,116.0 C165.0,114.7 166.3,113.0 170.0,112.0 C173.7,111.0 182.5,97.8 185.0,110.0 C187.5,122.2 215.8,172.5 185.0,185.0 C154.2,197.5 31.7,205.8 0.0,185.0 C-31.7,164.2 -12.2,80.8 -5.0,60.0Z" fill="#ff5000"/><path d="M-5.0,95.0 C0.0,81.7 19.2,98.2 25.0,100.0 C30.8,101.8 27.2,103.7 30.0,106.0 C32.8,108.3 38.8,111.0 41.8,114.0 C44.8,117.0 45.1,120.6 47.7,123.9 C50.3,127.2 53.9,131.1 57.5,133.7 C61.1,136.3 65.4,138.6 69.3,139.6 C73.2,140.6 77.7,140.3 81.0,139.6 C84.3,138.9 87.1,135.5 88.9,135.6 C90.7,135.7 92.2,138.3 92.0,140.0 C91.8,141.7 90.0,144.7 88.0,146.0 C86.0,147.3 82.7,147.3 80.0,148.0 C77.3,148.7 74.3,149.7 72.0,150.0 C69.7,150.3 68.0,150.3 66.0,150.0 C64.0,149.7 62.7,148.0 60.0,148.0 C57.3,148.0 52.5,148.8 50.0,150.0 C47.5,151.2 46.7,152.5 45.0,155.0 C43.3,157.5 42.5,161.2 40.0,165.0 C37.5,168.8 37.5,175.5 30.0,178.0 C22.5,180.5 0.8,193.8 -5.0,180.0 C-10.8,166.2 -10.0,108.3 -5.0,95.0Z" fill="#fa960a"/><path d="M20.0,131.0 C20.7,128.8 20.5,132.0 22.2,131.7 C23.9,131.4 27.7,129.3 30.0,129.0 C32.3,128.7 34.3,128.8 36.0,129.8 C37.7,130.8 39.0,133.1 40.0,135.0 C41.0,136.9 41.2,138.4 41.8,141.5 C42.4,144.6 44.1,150.7 43.8,153.3 C43.5,155.9 41.5,156.2 40.0,157.0 C38.5,157.8 36.3,157.0 35.0,158.0 C33.7,159.0 32.8,161.0 32.0,163.0 C31.2,165.0 31.3,169.2 30.0,170.0 C28.7,170.8 25.7,169.7 24.0,168.0 C22.3,166.3 21.0,163.8 20.0,160.0 C19.0,156.2 18.0,149.8 18.0,145.0 C18.0,140.2 19.3,133.2 20.0,131.0Z" fill="#ffd700"/><path d="M33.0,157.0 C34.5,155.6 37.8,157.0 40.0,157.5 C42.2,158.0 44.3,158.9 46.0,160.0 C47.7,161.1 49.3,162.5 50.0,164.0 C50.7,165.5 51.0,167.5 50.0,169.0 C49.0,170.5 46.3,172.7 44.0,173.0 C41.7,173.3 38.2,172.2 36.0,171.0 C33.8,169.8 31.5,168.3 31.0,166.0 C30.5,163.7 31.5,158.4 33.0,157.0Z" fill="#e4ef1e"/><ellipse cx="57" cy="158" rx="9" ry="6" fill="#ff5000"/><ellipse cx="113" cy="152.5" rx="11" ry="7" fill="#fa960a"/><ellipse cx="84" cy="160" rx="6" ry="4" fill="#fa960a"/><ellipse cx="91" cy="122" rx="4" ry="4" fill="#fa960a"/><ellipse cx="121" cy="88" rx="6" ry="4.5" fill="#fa960a"/><ellipse cx="110.5" cy="95" rx="3.5" ry="3.5" fill="#fa960a"/><ellipse cx="153" cy="46" rx="5" ry="4" fill="#ff5000"/><path d="M129.0,62.0 C130.0,60.0 132.2,59.8 134.0,60.0 C135.8,60.2 138.0,62.0 140.0,63.0 C142.0,64.0 144.5,64.5 146.0,66.0 C147.5,67.5 148.7,69.7 149.0,72.0 C149.3,74.3 148.7,77.7 148.0,80.0 C147.3,82.3 147.0,85.0 145.0,86.0 C143.0,87.0 138.5,86.7 136.0,86.0 C133.5,85.3 131.3,84.3 130.0,82.0 C128.7,79.7 128.2,75.3 128.0,72.0 C127.8,68.7 128.0,64.0 129.0,62.0Z" fill="#ff5000"/><g fill="none" stroke="#1a1a1a" stroke-width="1.2" stroke-linejoin="round"><path d="M49.8,89.0 L51.3,89.9 L52.8,90.9 L53.9,92.3 L54.0,93.9 L54.9,95.4 L54.7,97.1 L56.7,97.9 L58.7,98.7 L57.9,101.1 L59.5,101.3 L61.1,101.9 L62.0,103.4 L61.9,105.2 L63.5,105.5 L65.3,105.2 L66.8,106.0 L68.3,106.1 L69.9,105.9 L71.4,106.1 L72.9,106.8 L74.5,107.2 L76.0,108.2 L77.7,108.4 L79.6,109.1 L81.1,110.3 L82.6,111.6 L84.2,113.2 L85.9,112.7 L87.6,112.4 L89.1,111.4 L90.6,110.5 L92.3,110.0 L94.0,110.4 L95.4,109.1 L97.2,109.8 L98.7,109.2 L100.2,108.2 L101.6,107.3 L103.4,106.9 L104.9,106.0 L106.7,106.0"/><path d="M110.7,79.5 L110.3,81.1 L108.9,82.3 L108.7,84.0 L107.7,85.7 L105.8,86.6 L104.6,88.1 L104.0,90.3 L102.6,92.1 L103.4,93.8 L103.0,95.9 L104.0,97.5 L104.5,99.0 L104.2,100.5 L104.5,102.0 L105.3,103.3 L106.0,104.6 L106.7,106.0 L108.3,107.0 L109.9,108.1 L111.7,109.0 L113.1,110.5 L113.9,111.8 L115.6,112.3 L116.3,113.7 L117.8,112.4 L119.3,111.1 L121.2,110.5 L122.6,109.1 L124.4,108.1 L125.9,106.8 L127.6,105.6 L129.1,104.7 L130.0,103.2 L130.2,101.5 L129.8,99.7 L129.3,98.0 L129.5,96.1 L128.0,95.0 L127.3,93.0 L125.5,92.1 L123.8,92.4 L122.3,91.4 L120.6,91.5 L119.1,90.9 L117.4,90.8 L116.6,88.8 L116.1,86.7 L116.8,85.2 L117.1,83.6 L117.8,82.1 L118.1,80.5"/><path d="M116.3,113.7 L117.2,115.7 L118.0,117.8"/><path d="M99.0,77.0 L100.6,77.4 L102.4,77.6 L104.0,78.0 L105.7,78.5 L107.4,78.4 L108.9,79.5 L110.7,79.5 L112.5,80.1 L114.4,80.2 L116.3,79.8 L118.1,80.5 L119.9,80.5 L121.8,80.3 L123.7,80.2 L125.5,80.5 L126.6,81.7 L127.9,82.5 L129.5,82.7 L131.4,82.9 L132.7,84.5 L134.5,84.8 L136.2,85.4 L137.9,84.9 L139.5,84.4 L141.3,84.6 L143.0,84.0 L144.5,83.5 L146.0,83.4 L147.5,82.9 L148.8,81.9 L150.5,82.2 L151.9,81.5"/><path d="M135.8,66.2 L134.8,67.6 L133.6,68.9 L132.6,70.3 L131.9,71.8 L132.2,73.5 L132.0,75.1 L131.8,76.7 L131.7,78.4 L132.2,80.1 L131.8,81.8 L131.8,83.5"/><path d="M114.0,60.5 L115.3,61.3 L116.5,62.2 L118.0,63.0 L119.6,63.6 L121.5,63.6 L122.9,64.6 L124.7,64.5 L126.2,65.4 L127.8,65.8 L129.3,66.9 L131.0,67.0 L132.6,67.0 L134.2,66.6 L135.8,66.2 L137.0,65.0 L138.3,63.9 L139.1,62.3 L140.6,61.4 L142.2,60.7 L143.7,59.8 L145.6,60.1 L147.1,59.0 L148.7,58.3 L150.4,59.1 L151.9,58.0 L153.6,58.6 L155.2,58.2 L156.8,58.3 L158.4,58.7 L159.9,59.6 L161.7,58.9 L163.2,59.8 L165.2,59.5 L166.9,60.8 L168.9,60.6"/><path d="M153.5,42.0 L153.5,44.5 L152.7,46.3 L151.2,47.6 L150.3,49.3 L149.3,50.8 L148.3,52.3 L147.9,54.1 L148.0,55.8 L147.7,57.4 L147.1,59.0"/><path d="M158.0,66.0 L156.9,67.6 L155.2,68.6 L154.5,70.2 L154.2,71.8 L153.4,73.3 L153.5,75.1 L153.4,76.8 L153.0,78.4 L152.0,79.8 L151.9,81.5 L151.3,83.2 L151.0,85.0 L151.0,86.7 L150.2,88.2 L150.3,89.9 L149.9,91.5 L148.6,92.4 L148.0,94.0 L146.6,94.8 L146.6,96.3 L145.4,97.6 L145.5,99.2 L145.1,101.4 L144.4,103.5 L143.5,104.8 L142.0,105.4 L141.2,106.8 L138.6,107.3 L137.2,106.7 L135.7,106.5 L133.7,106.3 L131.9,105.3 L130.0,104.8 L130.0,103.2"/><path d="M149.9,91.5 L151.0,93.7 L151.7,95.2 L153.6,95.5 L154.3,97.0 L154.7,98.9 L156.1,100.5 L156.4,102.4 L156.6,104.1 L158.4,105.1 L158.6,106.8 L159.3,108.7 L160.8,110.1 L162.0,111.6 L163.5,112.8"/><path d="M142.3,106.8 L143.5,107.8 L144.5,109.0 L145.6,110.0 L146.7,111.2 L147.7,112.3 L149.2,112.6 L150.6,113.2 L152.1,113.4 L153.7,112.8 L155.4,113.0 L156.9,112.0 L158.6,112.3 L160.0,113.0 L161.3,113.9 L162.5,115.0"/><path d="M68.7,139.3 L70.5,139.5 L72.2,140.1 L73.9,140.5 L75.8,139.9 L77.5,140.4 L79.3,140.5 L81.0,140.2 L82.7,139.9 L84.4,139.1 L86.2,139.3 L87.6,138.0 L89.4,137.5 L91.2,137.1 L92.7,136.0 L94.3,135.4 L96.0,135.5 L97.6,135.0 L99.3,134.9 L100.5,136.0 L101.9,136.8 L103.6,137.1 L105.2,137.0 L106.9,137.7 L108.5,136.6 L110.2,137.1 L112.0,137.0 L113.8,136.7 L115.3,135.4 L117.2,135.6 L118.9,134.9 L120.6,134.4 L122.4,134.3 L123.7,132.9 L125.5,132.7 L126.6,131.7 L128.0,130.9 L128.8,129.6 L129.8,128.4 L128.5,127.4 L127.6,126.0"/><path d="M84.2,113.2 L83.6,114.7 L82.1,115.6 L81.5,117.1 L80.4,118.3 L81.8,118.9 L82.9,120.1 L84.1,121.1 L85.3,122.0 L86.5,123.8 L87.7,125.6 L88.9,127.4 L90.1,129.2 L89.8,130.8 L89.2,132.4 L88.1,133.7 L87.7,135.3 L87.5,137.0 L86.7,138.4 L86.5,140.1"/><path d="M110.2,137.1 L110.5,138.8 L111.0,140.5 L111.8,142.0 L112.4,143.6 L112.7,145.3 L113.1,146.9 L112.6,148.6 L113.5,150.2 L114.5,151.7 L115.5,153.3 L116.2,154.9 L116.7,156.7 L117.5,158.3 L117.8,160.0"/><path d="M68.7,139.3 L68.9,141.0 L69.7,142.5 L70.3,144.1 L70.8,145.7 L72.1,147.0 L72.3,148.7 L73.1,150.2 L73.6,151.8 L74.5,153.1 L75.7,154.1 L76.9,155.2 L77.5,156.7 L78.4,158.0 L78.7,159.7 L80.5,160.4 L81.1,161.9 L81.8,163.3 L82.5,165.0 L84.0,166.0"/><path d="M141.1,117.0 L142.0,118.5 L142.0,120.3 L142.7,121.8 L143.1,123.5 L143.9,125.0 L144.4,126.6 L145.8,127.6 L146.5,129.3 L147.7,130.5 L149.2,131.5 L149.8,132.9 L150.4,134.3 L151.3,135.6 L151.6,137.1"/><path d="M19.8,132.2 L21.4,132.5 L22.8,131.3 L24.4,131.0 L26.0,131.3 L27.2,129.7 L26.8,127.6 L27.8,126.0 L29.0,124.9 L30.7,124.7 L32.0,123.7 L33.7,123.5 L34.9,122.4 L35.8,125.0 L36.9,126.3 L37.1,128.3 L38.4,129.5 L39.9,131.1 L41.1,133.0 L41.3,134.8 L41.2,136.7 L42.0,138.4 L42.4,140.2 L42.7,142.1 L43.8,143.7 L44.1,145.5 L45.4,147.1 L45.5,149.0 L47.0,150.7 L49.0,151.6 L50.0,154.3 L51.3,153.3 L52.3,152.0 L53.5,150.8 L55.2,150.4 L56.2,149.0 L57.6,148.2 L59.1,147.6 L60.4,146.6 L61.5,145.4 L63.3,145.7 L65.0,144.9 L66.8,144.6 L68.3,143.9 L69.5,142.8 L69.2,141.0 L68.7,139.3"/><path d="M21.6,155.2 L23.9,155.2 L26.0,154.3 L27.2,155.3 L28.7,155.8 L30.4,155.5 L31.6,156.6 L33.1,157.0 L34.9,157.2 L36.6,157.6 L38.4,157.8 L40.1,157.1 L41.9,156.9 L43.8,157.0 L45.3,156.3 L46.8,155.3 L48.4,154.9 L50.0,154.3"/><path d="M38.4,157.8 L39.1,159.3 L39.9,160.7 L41.4,161.6 L42.0,163.2 L42.4,164.9 L44.1,165.6 L44.5,167.3 L45.5,168.5 L46.2,170.2 L46.0,172.0"/><path d="M50.0,154.3 L51.0,155.6 L51.3,157.4 L52.3,158.8 L53.8,159.8 L54.4,161.4 L53.5,163.1 L53.3,164.9 L53.6,166.9 L52.6,168.5"/><path d="M152.4,91.1 L154.1,90.6 L155.6,89.5 L157.2,89.1 L158.9,89.1 L160.5,89.5"/></g></g><path d="M6.1,108.2 L9.2,105.1 L12.3,103.1 L15.3,105.1 L16.4,108.5 L22.6,110.0 L32.0,111.0 L39.5,107.0 L43.0,105.5 L43.1,68.0 L46.6,70.5 L49.0,74.5 L50.6,79.4 L50.6,85.8 L49.8,89.0 L52.3,89.8 L57.1,89.8 L61.9,88.2 L66.8,85.0 L71.6,80.2 L74.8,75.3 L78.0,73.7 L80.0,73.7 L85.2,76.7 L92.7,77.7 L98.4,78.6 L102.0,76.7 L104.0,70.5 L105.8,67.3 L110.2,65.1 L114.5,61.5 L116.7,57.1 L120.4,54.2 L124.7,52.0 L129.1,47.6 L133.5,44.7 L137.8,41.8 L142.2,41.1 L148.0,41.8 L152.4,42.5 L157.5,41.8 L161.1,42.5 L164.0,46.2 L166.2,52.0 L167.6,57.8 L169.1,65.1 L169.5,70.9 L169.2,77.5 L168.6,79.0 L164.4,80.0 L160.7,81.8 L158.3,85.8 L158.3,89.3 L160.7,92.3 L164.4,94.0 L168.6,95.0 L169.9,94.5 L170.0,91.2 L172.8,90.6 L178.9,90.6 L178.3,94.0 L177.1,100.1 L175.9,106.2 L174.7,109.5 L172.4,112.3 L167.3,118.4 L162.1,122.5 L157.0,128.6 L150.9,134.8 L144.8,140.9 L136.6,147.0 L128.4,153.2 L120.2,157.3 L112.0,161.3 L102.2,163.4 L96.1,165.4 L90.0,166.5 L85.9,165.4 L80.0,164.2 L73.6,165.5 L67.3,167.4 L60.9,167.4 L55.8,168.6 L52.0,168.6 L49.5,170.5 L45.6,172.5 L41.8,173.1 L38.0,171.2 L34.2,169.9 L30.4,167.4 L27.8,168.6 L25.9,167.4 L25.3,164.2 L24.0,159.1 L22.7,154.0 L20.5,153.2 L21.3,151.6 L24.1,150.8 L24.9,148.4 L24.9,144.4 L23.7,141.1 L21.3,137.9 L18.9,133.9 L16.5,129.8 L13.6,125.0 L10.2,117.0 L6.1,109.2Z" fill="none" stroke="#1a1a1a" stroke-width="1.3" stroke-linejoin="round"/><path d="M118.0,119.8 L120.4,117.4 L123.2,115.1 L125.5,112.2 L128.8,110.4 L132.6,108.9 L135.4,109.4 L138.2,112.2 L141.1,115.1 L142.5,116.9 L140.1,119.8 L137.3,122.6 L133.5,124.5 L130.2,126.4 L127.9,129.2 L125.1,129.2 L122.2,127.3 L120.4,124.5 L118.5,121.6Z" fill="#fff" stroke="#1a1a1a" stroke-width="1.2" stroke-linejoin="round"/><g fill="#000"><circle cx="135.7" cy="62.2" r="1.3"/><circle cx="135" cy="66.9" r="1.3"/><circle cx="124.9" cy="71.6" r="1.3"/><circle cx="122.9" cy="74.7" r="1.3"/><circle cx="125.6" cy="78.3" r="1.3"/><circle cx="121.5" cy="78.3" r="1.3"/><circle cx="132.3" cy="73" r="1.3"/><circle cx="132.3" cy="77" r="1.3"/><circle cx="135" cy="79.7" r="1.3"/><circle cx="141.7" cy="74.3" r="1.3"/><circle cx="151.1" cy="70.3" r="1.3"/><circle cx="153.1" cy="73.6" r="1.3"/><circle cx="155.2" cy="70.3" r="1.3"/><circle cx="157.2" cy="65.6" r="1.3"/><circle cx="155.2" cy="79.7" r="1.3"/><circle cx="117.5" cy="87.1" r="1.3"/><circle cx="124.2" cy="88.4" r="1.3"/><circle cx="152.9" cy="74.3" r="1.3"/><circle cx="152.1" cy="84" r="1.3"/><circle cx="154.5" cy="87.2" r="1.3"/><circle cx="153.7" cy="91.2" r="1.3"/><circle cx="170.6" cy="96" r="1.3"/><circle cx="171.4" cy="103.3" r="1.3"/><circle cx="148" cy="100.9" r="1.3"/><circle cx="156.9" cy="100.9" r="1.3"/><circle cx="146.4" cy="112.2" r="1.3"/><circle cx="141.6" cy="89.6" r="1.3"/><circle cx="111.8" cy="95.9" r="1.3"/><circle cx="90.9" cy="103.5" r="1.3"/><circle cx="95.2" cy="103.3" r="1.3"/><circle cx="114.5" cy="107.6" r="1.3"/><circle cx="117.8" cy="104.9" r="1.3"/><circle cx="93" cy="123" r="1.3"/><circle cx="84.2" cy="113" r="1.3"/><circle cx="117.8" cy="86.7" r="1.3"/><circle cx="140.9" cy="110.1" r="1.3"/><circle cx="147" cy="112.8" r="1.3"/><circle cx="151.7" cy="114.1" r="1.3"/><circle cx="150.4" cy="118.2" r="1.3"/><circle cx="136.2" cy="126.9" r="1.3"/><circle cx="30.6" cy="145.9" r="1.3"/><circle cx="32.7" cy="158.8" r="1.3"/><circle cx="38.8" cy="159.2" r="1.3"/><circle cx="101" cy="129.8" r="1.3"/><circle cx="70.5" cy="147.1" r="1.3"/><circle cx="68.3" cy="161.4" r="1.3"/><circle cx="91.6" cy="162.9" r="1.3"/><circle cx="90.9" cy="165.2" r="1.3"/><circle cx="114.2" cy="150.1" r="1.3"/><circle cx="115.7" cy="152.4" r="1.3"/><circle cx="120.2" cy="150.9" r="1.3"/><circle cx="121.7" cy="153.9" r="1.3"/><circle cx="153.1" cy="45.4" r="1.3"/><circle cx="140.9" cy="90" r="1.3"/><circle cx="118.7" cy="77.2" r="1.3"/></g><circle cx="33.7" cy="112.2" r="1.6" fill="#111" stroke="#fff" stroke-width="1.1"/><text x="36.300000000000004" y="114.10000000000001" font-size="5" fill="#6a7080" stroke="#fff" stroke-width="1.2" stroke-opacity="0.9" paint-order="stroke" stroke-linejoin="round">9.1</text><circle cx="66" cy="113" r="1.6" fill="#111" stroke="#fff" stroke-width="1.1"/><text x="68.6" y="114.9" font-size="5" fill="#6a7080" stroke="#fff" stroke-width="1.2" stroke-opacity="0.9" paint-order="stroke" stroke-linejoin="round">10</text><circle cx="102.4" cy="98.8" r="1.6" fill="#111" stroke="#fff" stroke-width="1.1"/><text x="105.0" y="100.7" font-size="5" fill="#6a7080" stroke="#fff" stroke-width="1.2" stroke-opacity="0.9" paint-order="stroke" stroke-linejoin="round">9.8</text><circle cx="106.4" cy="111.6" r="1.6" fill="#111" stroke="#fff" stroke-width="1.1"/><text x="109.0" y="113.5" font-size="5" fill="#6a7080" stroke="#fff" stroke-width="1.2" stroke-opacity="0.9" paint-order="stroke" stroke-linejoin="round">10.3</text><circle cx="110.1" cy="75.2" r="1.6" fill="#111" stroke="#fff" stroke-width="1.1"/><text x="112.69999999999999" y="77.10000000000001" font-size="5" fill="#6a7080" stroke="#fff" stroke-width="1.2" stroke-opacity="0.9" paint-order="stroke" stroke-linejoin="round">10</text><circle cx="124.2" cy="59.5" r="1.6" fill="#111" stroke="#fff" stroke-width="1.1"/><text x="126.8" y="61.4" font-size="5" fill="#6a7080" stroke="#fff" stroke-width="1.2" stroke-opacity="0.9" paint-order="stroke" stroke-linejoin="round">10</text><circle cx="147.8" cy="57.5" r="1.6" fill="#111" stroke="#fff" stroke-width="1.1"/><text x="150.4" y="59.4" font-size="5" fill="#6a7080" stroke="#fff" stroke-width="1.2" stroke-opacity="0.9" paint-order="stroke" stroke-linejoin="round">10</text><circle cx="143" cy="78.7" r="1.6" fill="#111" stroke="#fff" stroke-width="1.1"/><text x="145.6" y="80.60000000000001" font-size="5" fill="#6a7080" stroke="#fff" stroke-width="1.2" stroke-opacity="0.9" paint-order="stroke" stroke-linejoin="round">10.4</text><circle cx="159.2" cy="71.6" r="1.6" fill="#111" stroke="#fff" stroke-width="1.1"/><text x="161.79999999999998" y="73.5" font-size="5" fill="#6a7080" stroke="#fff" stroke-width="1.2" stroke-opacity="0.9" paint-order="stroke" stroke-linejoin="round">10</text><circle cx="153.1" cy="116.8" r="1.6" fill="#111" stroke="#fff" stroke-width="1.1"/><text x="155.7" y="118.7" font-size="5" fill="#6a7080" stroke="#fff" stroke-width="1.2" stroke-opacity="0.9" paint-order="stroke" stroke-linejoin="round">9.6</text><circle cx="164.5" cy="110.1" r="1.6" fill="#111" stroke="#fff" stroke-width="1.1"/><text x="167.1" y="112.0" font-size="5" fill="#6a7080" stroke="#fff" stroke-width="1.2" stroke-opacity="0.9" paint-order="stroke" stroke-linejoin="round">9.5</text><circle cx="121.4" cy="142.4" r="1.6" fill="#111" stroke="#fff" stroke-width="1.1"/><text x="124.0" y="144.3" font-size="5" fill="#6a7080" stroke="#fff" stroke-width="1.2" stroke-opacity="0.9" paint-order="stroke" stroke-linejoin="round">10.2</text><circle cx="100.7" cy="141.8" r="1.6" fill="#111" stroke="#fff" stroke-width="1.1"/><text x="103.3" y="143.70000000000002" font-size="5" fill="#6a7080" stroke="#fff" stroke-width="1.2" stroke-opacity="0.9" paint-order="stroke" stroke-linejoin="round">9.9</text><circle cx="53" cy="158.2" r="1.6" fill="#111" stroke="#fff" stroke-width="1.1"/><text x="55.6" y="160.1" font-size="5" fill="#6a7080" stroke="#fff" stroke-width="1.2" stroke-opacity="0.9" paint-order="stroke" stroke-linejoin="round">10</text><circle cx="31.6" cy="165.3" r="1.6" fill="#111" stroke="#fff" stroke-width="1.1"/><text x="34.2" y="167.20000000000002" font-size="5" fill="#6a7080" stroke="#fff" stroke-width="1.2" stroke-opacity="0.9" paint-order="stroke" stroke-linejoin="round">10.5</text></g><g stroke="#333" stroke-width="1.4" fill="none"><rect x="3.5" y="37.5" width="541" height="275.5"/><line x1="183.5" y1="37.5" x2="183.5" y2="313"/><line x1="364" y1="37.5" x2="364" y2="313"/><line x1="3.5" y1="175.5" x2="544.5" y2="175.5"/></g><text x="10.3" y="56.8" font-size="10.5" fill="#222">SPI1</text><text x="194.6" y="57.0" font-size="10.5" fill="#222">SPI3</text><text x="374.3" y="57.8" font-size="10.5" fill="#222">SPI6</text><text x="9.6" y="195.2" font-size="10.5" fill="#222">SPI12</text><text x="194.2" y="194.6" font-size="10.5" fill="#222">SPI18</text><text x="375.3" y="195.8" font-size="10.5" fill="#222">SPI24</text><text x="76" y="339" font-size="8.8" font-weight="bold" fill="#111">Legend</text><circle cx="84.5" cy="351.4" r="1.1" fill="#000"/><text x="96.8" y="353.5" font-size="6.3" fill="#333">Stations - DD Q2</text><rect x="75.4" y="358.8" width="18" height="8.6" fill="#fff" stroke="#555" stroke-width="0.7"/><text x="97.2" y="365.3" font-size="6.2" fill="#333">WMA Boundaries</text><text x="150.5" y="354.2" font-size="7.8" font-weight="bold" fill="#111">DD Q2</text><rect x="177.7" y="346.6" width="18" height="8.6" fill="#4ca31a" stroke="#777" stroke-width="0.5"/><text x="198.4" y="353.4" font-size="6.2" fill="#444">3 - 4</text><rect x="214.4" y="346.6" width="18" height="8.6" fill="#77c016" stroke="#777" stroke-width="0.5"/><text x="235.1" y="353.4" font-size="6.2" fill="#444">4 - 5</text><rect x="251.0" y="346.6" width="18" height="8.6" fill="#b2dc14" stroke="#777" stroke-width="0.5"/><text x="271.7" y="353.4" font-size="6.2" fill="#444">5 - 6</text><rect x="287.5" y="346.6" width="18" height="8.6" fill="#e4ef1e" stroke="#777" stroke-width="0.5"/><text x="308.2" y="353.4" font-size="6.2" fill="#444">6 - 7</text><rect x="324.1" y="346.6" width="18" height="8.6" fill="#ffd700" stroke="#777" stroke-width="0.5"/><text x="344.8" y="353.4" font-size="6.2" fill="#444">7 - 8</text><rect x="360.6" y="346.6" width="18" height="8.6" fill="#fa960a" stroke="#777" stroke-width="0.5"/><text x="381.3" y="353.4" font-size="6.2" fill="#444">8 - 9</text><rect x="397.1" y="346.6" width="18" height="8.6" fill="#ff5000" stroke="#777" stroke-width="0.5"/><text x="417.8" y="353.4" font-size="6.2" fill="#444">9 - 10</text><rect x="436.5" y="346.6" width="18" height="8.6" fill="#f20606" stroke="#777" stroke-width="0.5"/><text x="457.2" y="353.4" font-size="6.2" fill="#444">10 - 11</text></svg></body></html>
